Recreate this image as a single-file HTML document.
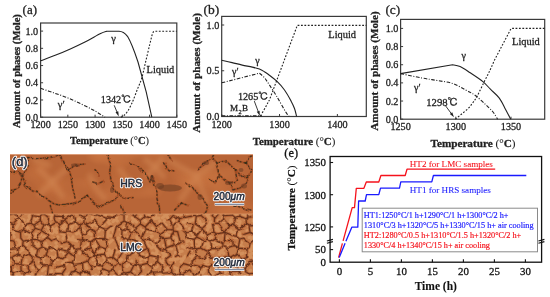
<!DOCTYPE html>
<html><head><meta charset="utf-8"><style>
html,body{margin:0;padding:0;background:#fff;}
svg{display:block;filter:blur(0.3px);}
.h{stroke:#ae5428;stroke-width:5.3}
.l{stroke:#d3905c;stroke-width:3.2}
</style></head><body>
<svg width="550" height="297" viewBox="0 0 550 297">
<rect width="550" height="297" fill="#fff"/>
<defs>
<clipPath id="cTop"><rect x="10" y="154" width="243" height="60"/></clipPath>
<clipPath id="cBot"><rect x="10" y="214" width="243" height="61.5"/></clipPath>
<filter id="fShade" x="0" y="0" width="100%" height="100%" color-interpolation-filters="sRGB">
  <feTurbulence type="fractalNoise" baseFrequency="0.02 0.03" numOctaves="2" seed="4" result="n"/>
  <feColorMatrix in="n" type="matrix" values="0 0 0 0 0.95  0 0 0 0 0.6  0 0 0 0 0.35  1.0 0 0 0 -0.5" result="hl"/>
  <feComposite in="hl" in2="SourceGraphic" operator="in" result="hl2"/>
  <feMerge><feMergeNode in="SourceGraphic"/><feMergeNode in="hl2"/></feMerge>
</filter>

<filter id="fDisp" x="-5%" y="-5%" width="110%" height="110%">
  <feTurbulence type="fractalNoise" baseFrequency="0.18" numOctaves="2" seed="3" result="n"/>
  <feDisplacementMap in="SourceGraphic" in2="n" scale="3.4" xChannelSelector="R" yChannelSelector="G" result="d"/>
  <feGaussianBlur in="d" stdDeviation="0.55"/>
</filter>
<filter id="fDispT" x="-5%" y="-5%" width="110%" height="110%">
  <feTurbulence type="fractalNoise" baseFrequency="0.12" numOctaves="2" seed="8" result="n"/>
  <feDisplacementMap in="SourceGraphic" in2="n" scale="4" xChannelSelector="R" yChannelSelector="G" result="d"/>
  <feGaussianBlur in="d" stdDeviation="0.35"/>
</filter>
<filter id="fBl7" x="-5%" y="-5%" width="110%" height="110%"><feGaussianBlur stdDeviation="0.7"/></filter>

<filter id="fBlur2" x="-20%" y="-20%" width="140%" height="140%"><feGaussianBlur stdDeviation="2.2"/></filter>
<filter id="fBlur" x="-20%" y="-20%" width="140%" height="140%"><feGaussianBlur stdDeviation="0.6"/></filter>
</defs>
<rect x="10" y="154" width="243" height="60" fill="#b86537" filter="url(#fShade)"/>
<g clip-path="url(#cTop)" filter="url(#fBlur2)" stroke="#cf8450" stroke-linecap="round" fill="none" stroke-opacity="0.55">
<polyline points="170,161 197,176 206,201" stroke-width="6"/>
<polyline points="215,163 197,176 181,199" stroke-width="6"/>
<polyline points="146,160 155,167 163,176" stroke-width="6"/>
<polyline points="162,159 155,167 147,176" stroke-width="6"/>
<polyline points="40,170 52,182 62,196" stroke-width="6"/>
<polyline points="65,170 52,182 40,194" stroke-width="6"/>
<polyline points="90,176 97,190 104,198" stroke-width="6"/>
<polyline points="120,170 128,180" stroke-width="6"/>
<polyline points="230,196 240,202" stroke-width="6"/>
<polyline points="35,160 48,165" stroke-width="6"/>
</g>
<g clip-path="url(#cTop)"><g filter="url(#fDispT)" fill="none" stroke-linejoin="round" stroke-linecap="round">
<polyline points="27.9,158.5 39,158.5 50.3,157.4 59.2,155 61,153" stroke="#933c18" stroke-width="2.2" stroke-opacity="0.5"/>
<polyline points="10,172 18,172.5 22.3,175.3 24.5,170.8 27,166 27.9,158.5" stroke="#933c18" stroke-width="2.2" stroke-opacity="0.5"/>
<polyline points="22.3,175.3 21,182 17,188 10,189.5" stroke="#933c18" stroke-width="2.2" stroke-opacity="0.5"/>
<polyline points="22.3,175.3 25.7,185.3 32.4,190.9 39,193 45.8,198.7 54.7,204.3 63.7,205.5 72.6,204.3 81.6,198.7 88.3,195.4" stroke="#933c18" stroke-width="2.2" stroke-opacity="0.5"/>
<polyline points="60.3,154 60.3,156.2 63.7,164 69.3,169.7 71.5,179.7 72.6,187.6 73.8,193 75,198" stroke="#933c18" stroke-width="2.2" stroke-opacity="0.5"/>
<polyline points="69.3,169.7 74.9,165.2 80,164.5 86,164" stroke="#933c18" stroke-width="2.2" stroke-opacity="0.5"/>
<polyline points="95,169.7 97.2,172 99,176" stroke="#933c18" stroke-width="2.2" stroke-opacity="0.5"/>
<polyline points="108.4,154 108.4,158.5 110.7,165.2 109.6,172 111,180 112.9,187.6 117.4,194.3 126.3,198.7 133,197.6" stroke="#933c18" stroke-width="2.2" stroke-opacity="0.5"/>
<polyline points="92.8,183 97.2,184.2 104,180.8" stroke="#933c18" stroke-width="2.2" stroke-opacity="0.5"/>
<polyline points="88.3,195.4 92.8,202 99.5,206.6 108.4,203.2 115.1,199.9 117.4,194.3" stroke="#933c18" stroke-width="2.2" stroke-opacity="0.5"/>
<polyline points="50.3,205.5 52.5,214" stroke="#933c18" stroke-width="2.2" stroke-opacity="0.5"/>
<polyline points="10,193 14.5,189.8" stroke="#933c18" stroke-width="2.2" stroke-opacity="0.5"/>
<polyline points="121.9,205.5 124.1,214" stroke="#933c18" stroke-width="2.2" stroke-opacity="0.5"/>
<polyline points="130,163 137,165 143,172 147,176 150,182 152,176" stroke="#933c18" stroke-width="2.2" stroke-opacity="0.5"/>
<polyline points="152,176 154,185 157,192 157,199 159,205 160,214" stroke="#933c18" stroke-width="2.2" stroke-opacity="0.5"/>
<polyline points="163.5,163 166,166 169,169.7 174,171" stroke="#933c18" stroke-width="2.2" stroke-opacity="0.5"/>
<polyline points="168,154 170,158 172,160" stroke="#933c18" stroke-width="2.2" stroke-opacity="0.5"/>
<polyline points="197,169.7 202,166 206,163 210,160" stroke="#933c18" stroke-width="2.2" stroke-opacity="0.5"/>
<polyline points="186,183 192.6,187.5 197,194 201.6,196.5 208.3,205.5 203.8,214" stroke="#933c18" stroke-width="2.2" stroke-opacity="0.5"/>
<polyline points="181.5,203 174.7,210" stroke="#933c18" stroke-width="2.2" stroke-opacity="0.5"/>
<polyline points="181.5,203 188,205.5" stroke="#933c18" stroke-width="2.2" stroke-opacity="0.5"/>
<polyline points="216,163 219.5,176.4 228.4,183 237.4,180.8 235,169.7 226,160.7 216,163" stroke="#933c18" stroke-width="2.2" stroke-opacity="0.5"/>
<polyline points="237.4,160.7 246.3,163 250.8,169.7 248.6,176.4 241.9,176.4 235,169.7" stroke="#933c18" stroke-width="2.2" stroke-opacity="0.5"/>
<polyline points="228.4,183 233,189.8 241.9,187.6 246.3,183 248.6,176.4" stroke="#933c18" stroke-width="2.2" stroke-opacity="0.5"/>
<polyline points="210.5,178.6 215,183 219.5,176.4" stroke="#933c18" stroke-width="2.2" stroke-opacity="0.5"/>
<polyline points="235,205.5 250.8,210" stroke="#933c18" stroke-width="2.2" stroke-opacity="0.5"/>
<polyline points="246.3,163 249,157 253,156" stroke="#933c18" stroke-width="2.2" stroke-opacity="0.5"/>
<polyline points="216,163 212,158 214,154" stroke="#933c18" stroke-width="2.2" stroke-opacity="0.5"/>
<polyline points="27.9,158.5 39,158.5 50.3,157.4 59.2,155 61,153" stroke="#222a1a" stroke-width="1.25" stroke-opacity="0.7" stroke-dasharray="1.4 2.4 0.9 3.2 2.2 2.6 0.7 2"/>
<polyline points="10,172 18,172.5 22.3,175.3 24.5,170.8 27,166 27.9,158.5" stroke="#222a1a" stroke-width="1.25" stroke-opacity="0.7" stroke-dasharray="1.4 2.4 0.9 3.2 2.2 2.6 0.7 2"/>
<polyline points="22.3,175.3 21,182 17,188 10,189.5" stroke="#222a1a" stroke-width="1.25" stroke-opacity="0.7" stroke-dasharray="1.4 2.4 0.9 3.2 2.2 2.6 0.7 2"/>
<polyline points="22.3,175.3 25.7,185.3 32.4,190.9 39,193 45.8,198.7 54.7,204.3 63.7,205.5 72.6,204.3 81.6,198.7 88.3,195.4" stroke="#222a1a" stroke-width="1.25" stroke-opacity="0.7" stroke-dasharray="1.4 2.4 0.9 3.2 2.2 2.6 0.7 2"/>
<polyline points="60.3,154 60.3,156.2 63.7,164 69.3,169.7 71.5,179.7 72.6,187.6 73.8,193 75,198" stroke="#222a1a" stroke-width="1.25" stroke-opacity="0.7" stroke-dasharray="1.4 2.4 0.9 3.2 2.2 2.6 0.7 2"/>
<polyline points="69.3,169.7 74.9,165.2 80,164.5 86,164" stroke="#222a1a" stroke-width="1.25" stroke-opacity="0.7" stroke-dasharray="1.4 2.4 0.9 3.2 2.2 2.6 0.7 2"/>
<polyline points="95,169.7 97.2,172 99,176" stroke="#222a1a" stroke-width="1.25" stroke-opacity="0.7" stroke-dasharray="1.4 2.4 0.9 3.2 2.2 2.6 0.7 2"/>
<polyline points="108.4,154 108.4,158.5 110.7,165.2 109.6,172 111,180 112.9,187.6 117.4,194.3 126.3,198.7 133,197.6" stroke="#222a1a" stroke-width="1.25" stroke-opacity="0.7" stroke-dasharray="1.4 2.4 0.9 3.2 2.2 2.6 0.7 2"/>
<polyline points="92.8,183 97.2,184.2 104,180.8" stroke="#222a1a" stroke-width="1.25" stroke-opacity="0.7" stroke-dasharray="1.4 2.4 0.9 3.2 2.2 2.6 0.7 2"/>
<polyline points="88.3,195.4 92.8,202 99.5,206.6 108.4,203.2 115.1,199.9 117.4,194.3" stroke="#222a1a" stroke-width="1.25" stroke-opacity="0.7" stroke-dasharray="1.4 2.4 0.9 3.2 2.2 2.6 0.7 2"/>
<polyline points="50.3,205.5 52.5,214" stroke="#222a1a" stroke-width="1.25" stroke-opacity="0.7" stroke-dasharray="1.4 2.4 0.9 3.2 2.2 2.6 0.7 2"/>
<polyline points="10,193 14.5,189.8" stroke="#222a1a" stroke-width="1.25" stroke-opacity="0.7" stroke-dasharray="1.4 2.4 0.9 3.2 2.2 2.6 0.7 2"/>
<polyline points="121.9,205.5 124.1,214" stroke="#222a1a" stroke-width="1.25" stroke-opacity="0.7" stroke-dasharray="1.4 2.4 0.9 3.2 2.2 2.6 0.7 2"/>
<polyline points="130,163 137,165 143,172 147,176 150,182 152,176" stroke="#222a1a" stroke-width="1.25" stroke-opacity="0.7" stroke-dasharray="1.4 2.4 0.9 3.2 2.2 2.6 0.7 2"/>
<polyline points="152,176 154,185 157,192 157,199 159,205 160,214" stroke="#222a1a" stroke-width="1.25" stroke-opacity="0.7" stroke-dasharray="1.4 2.4 0.9 3.2 2.2 2.6 0.7 2"/>
<polyline points="163.5,163 166,166 169,169.7 174,171" stroke="#222a1a" stroke-width="1.25" stroke-opacity="0.7" stroke-dasharray="1.4 2.4 0.9 3.2 2.2 2.6 0.7 2"/>
<polyline points="168,154 170,158 172,160" stroke="#222a1a" stroke-width="1.25" stroke-opacity="0.7" stroke-dasharray="1.4 2.4 0.9 3.2 2.2 2.6 0.7 2"/>
<polyline points="197,169.7 202,166 206,163 210,160" stroke="#222a1a" stroke-width="1.25" stroke-opacity="0.7" stroke-dasharray="1.4 2.4 0.9 3.2 2.2 2.6 0.7 2"/>
<polyline points="186,183 192.6,187.5 197,194 201.6,196.5 208.3,205.5 203.8,214" stroke="#222a1a" stroke-width="1.25" stroke-opacity="0.7" stroke-dasharray="1.4 2.4 0.9 3.2 2.2 2.6 0.7 2"/>
<polyline points="181.5,203 174.7,210" stroke="#222a1a" stroke-width="1.25" stroke-opacity="0.7" stroke-dasharray="1.4 2.4 0.9 3.2 2.2 2.6 0.7 2"/>
<polyline points="181.5,203 188,205.5" stroke="#222a1a" stroke-width="1.25" stroke-opacity="0.7" stroke-dasharray="1.4 2.4 0.9 3.2 2.2 2.6 0.7 2"/>
<polyline points="216,163 219.5,176.4 228.4,183 237.4,180.8 235,169.7 226,160.7 216,163" stroke="#222a1a" stroke-width="1.25" stroke-opacity="0.7" stroke-dasharray="1.4 2.4 0.9 3.2 2.2 2.6 0.7 2"/>
<polyline points="237.4,160.7 246.3,163 250.8,169.7 248.6,176.4 241.9,176.4 235,169.7" stroke="#222a1a" stroke-width="1.25" stroke-opacity="0.7" stroke-dasharray="1.4 2.4 0.9 3.2 2.2 2.6 0.7 2"/>
<polyline points="228.4,183 233,189.8 241.9,187.6 246.3,183 248.6,176.4" stroke="#222a1a" stroke-width="1.25" stroke-opacity="0.7" stroke-dasharray="1.4 2.4 0.9 3.2 2.2 2.6 0.7 2"/>
<polyline points="210.5,178.6 215,183 219.5,176.4" stroke="#222a1a" stroke-width="1.25" stroke-opacity="0.7" stroke-dasharray="1.4 2.4 0.9 3.2 2.2 2.6 0.7 2"/>
<polyline points="235,205.5 250.8,210" stroke="#222a1a" stroke-width="1.25" stroke-opacity="0.7" stroke-dasharray="1.4 2.4 0.9 3.2 2.2 2.6 0.7 2"/>
<polyline points="246.3,163 249,157 253,156" stroke="#222a1a" stroke-width="1.25" stroke-opacity="0.7" stroke-dasharray="1.4 2.4 0.9 3.2 2.2 2.6 0.7 2"/>
<polyline points="216,163 212,158 214,154" stroke="#222a1a" stroke-width="1.25" stroke-opacity="0.7" stroke-dasharray="1.4 2.4 0.9 3.2 2.2 2.6 0.7 2"/>
</g>
<ellipse cx="170" cy="188" rx="12" ry="3.5" fill="#6a3820" fill-opacity="0.55" filter="url(#fBlur)"/>
<ellipse cx="160" cy="186" rx="4" ry="3" fill="#6a3820" fill-opacity="0.55" filter="url(#fBlur)"/>
<ellipse cx="229" cy="183" rx="4" ry="2" fill="#6a3820" fill-opacity="0.55" filter="url(#fBlur)"/>
<ellipse cx="244" cy="186" rx="3" ry="2.5" fill="#6a3820" fill-opacity="0.55" filter="url(#fBlur)"/>
<ellipse cx="206" cy="163" rx="3" ry="2" fill="#6a3820" fill-opacity="0.55" filter="url(#fBlur)"/>
<ellipse cx="75" cy="165" rx="4" ry="1.8" fill="#6a3820" fill-opacity="0.55" filter="url(#fBlur)"/>
<ellipse cx="22" cy="175" rx="2.5" ry="2" fill="#6a3820" fill-opacity="0.55" filter="url(#fBlur)"/>
<ellipse cx="112" cy="190" rx="2" ry="3" fill="#6a3820" fill-opacity="0.55" filter="url(#fBlur)"/>
<ellipse cx="200" cy="197" rx="2.5" ry="3" fill="#6a3820" fill-opacity="0.55" filter="url(#fBlur)"/>
<ellipse cx="152" cy="178" rx="2" ry="3" fill="#6a3820" fill-opacity="0.55" filter="url(#fBlur)"/>
<ellipse cx="241" cy="170" rx="2.5" ry="2" fill="#6a3820" fill-opacity="0.55" filter="url(#fBlur)"/>
</g>
<rect x="10" y="214" width="243" height="61.5" fill="#c67d4b"/>
<g clip-path="url(#cBot)"><g filter="url(#fBl7)" fill="none" stroke-linecap="round" stroke-linejoin="round">
<path class="l" d="M134.5 276.1l0.4 4.2M134.5 276.1l-3.2 0.3M134.5 276.1l-0.4 -4.3M134.5 276.1l4.5 -0.4M139.8 266.1l3.7 1.4M139.8 266.1l-0.9 2.5M139.8 266.1l-3.5 -1.3M139.8 266.1l1.1 -3.1M153.6 268.5l1.9 3.1M153.6 268.5l-2.3 1.4M153.6 268.5l-2.2 -3.7M153.6 268.5l3.4 -2.0M129.4 263.6l3.2 2.9M129.4 263.6l-2.5 2.8M129.4 263.6l-3.1 -2.8M129.4 263.6l2.4 -2.6M147.2 274.5l2.8 2.9M147.2 274.5l-2.6 2.4M147.2 274.5l2.2 -2.1M129.4 253.3l-0.6 4.0M129.4 253.3l-3.7 -0.5M129.4 253.3l0.7 -4.5M169.2 266.6l2.0 1.8M169.2 266.6l-3.0 3.4M169.2 266.6l1.9 -2.2M117.9 261.5l-2.1 -3.8M117.9 261.5l3.4 -1.9M144.2 257.0l1.9 3.1M144.2 257.0l-3.8 2.4M144.2 257.0l-2.1 -3.5M144.2 257.0l3.8 -2.3M120.5 275.1l0.7 3.0M120.5 275.1l-3.5 0.8M120.5 275.1l-0.8 -3.6M162.6 273.0l0.5 2.8M162.6 273.0l-2.8 0.5M162.6 273.0l-0.7 -3.9M162.6 273.0l2.7 -0.5M161.0 262.2l1.9 2.8M161.0 262.2l-2.5 1.7M161.0 262.2l-2.1 -3.2M161.0 262.2l3.5 -2.3M110.1 278.6l3.1 2.2M110.1 278.6l-1.9 2.8M110.1 278.6l1.5 -2.2M156.5 278.3l0.6 4.0M156.5 278.3l-3.4 0.5M156.5 278.3l-0.4 -2.6M156.5 278.3l2.8 -0.4M155.8 254.4l3.1 1.2M155.8 254.4l-1.4 3.7M155.8 254.4l-3.1 -1.2M155.8 254.4l1.4 -3.7M173.1 278.5l4.6 0.6M173.1 278.5l-0.4 3.5M173.1 278.5l-2.6 -0.3M173.1 278.5l0.5 -4.4M95.8 278.0l0.1 3.8M95.8 278.0l-4.3 0.1M95.8 278.0l-0.1 -3.2M95.8 278.0l3.3 -0.1M97.3 265.9l1.4 2.4M97.3 265.9l-3.6 2.0M97.3 265.9l-1.5 -2.6M97.3 265.9l3.5 -2.0M174.3 259.2l0.3 2.8M174.3 259.2l-4.3 0.4M174.3 259.2l-0.3 -3.1M174.3 259.2l3.6 -0.3M178.5 269.5l3.1 1.7M178.5 269.5l-1.7 3.0M178.5 269.5l-3.5 -1.9M178.5 269.5l1.8 -3.3M146.2 244.8l3.1 1.2M146.2 244.8l-3.1 -1.2M146.2 244.8l1.1 -2.8M159.3 239.4l-3.8 1.4M167.8 247.4l3.6 1.5M167.8 247.4l-1.4 3.5M167.8 247.4l-4.2 -1.8M154.6 246.0l2.3 4.0M154.6 246.0l-3.1 1.8M154.6 246.0l-1.7 -2.9M154.6 246.0l3.4 -2.0M178.5 252.0l0.8 4.4M178.5 252.0l-3.1 0.6M178.5 252.0l-0.8 -4.4M178.5 252.0l3.6 -0.7M138.0 248.9l-2.4 3.9M138.0 248.9l-3.6 -2.2M138.0 248.9l2.1 -3.5M118.6 250.4l1.9 2.6M118.6 250.4l-2.5 1.9M118.6 250.4l-1.6 -2.2M118.6 250.4l3.4 -2.6M144.0 230.0l3.0 1.3M144.0 230.0l-1.1 2.7M144.0 230.0l-2.6 -1.1M138.1 240.7l-3.5 1.1M138.1 240.7l-1.2 -3.8M138.1 240.7l3.8 -1.2M126.7 239.6l2.4 1.4M126.7 239.6l-1.4 2.4M126.7 239.6l-2.9 -1.7M126.7 239.6l1.4 -2.3M106.6 259.3l2.5 1.9M106.6 259.3l-2.5 3.3M106.6 259.3l-2.6 -1.9M106.6 259.3l1.8 -2.5M166.7 230.7l3.6 0.2M166.7 230.7l-0.3 4.4M113.0 270.9l-4.0 -0.1M113.0 270.9l0.1 -4.5M149.5 237.2l1.5 3.8M149.5 237.2l-2.5 1.0M149.5 237.2l2.7 -1.1M153.8 230.3l-2.8 1.8M153.8 230.3l-1.5 -2.3M153.8 230.3l3.5 -2.2M177.5 239.4l3.5 1.9M177.5 239.4l-1.8 3.4M177.5 239.4l-3.5 -1.9M177.5 239.4l1.5 -2.8M122.7 230.7l2.9 1.4M122.7 230.7l-1.8 3.8M122.7 230.7l-2.8 -1.3M122.7 230.7l1.8 -3.7M108.4 243.5l-2.8 -3.2M108.4 243.5l2.9 -2.5M134.7 228.9l-2.7 2.2M134.7 228.9l-2.8 -3.4M134.7 228.9l3.5 -2.9M142.8 218.7l3.0 2.7M142.8 218.7l-1.8 2.0M142.8 218.7l-2.0 -1.9M142.8 218.7l2.2 -2.4M84.9 275.1l0.4 4.1M84.9 275.1l-3.0 0.3M84.9 275.1l-0.4 -3.8M84.9 275.1l4.5 -0.5M165.7 215.2l1.9 2.3M165.7 215.2l-3.2 2.7M165.7 215.2l-2.3 -2.7M165.7 215.2l2.7 -2.2M182.7 259.7l-1.6 2.2M182.7 259.7l-2.2 -1.6M182.7 259.7l2.4 -3.4M155.9 218.3l-3.9 0.5M155.9 218.3l-0.5 -4.5M155.9 218.3l2.9 -0.3M85.0 264.1l1.9 4.1M85.0 264.1l4.0 -1.8M175.4 213.5l2.4 2.0M175.4 213.5l-1.8 2.2M175.4 213.5l-2.1 -1.7M175.4 213.5l2.3 -2.8M182.7 279.2l2.6 0.8M182.7 279.2l-1.1 3.6M182.7 279.2l-3.5 -1.0M110.4 252.2l1.4 2.8M110.4 252.2l-4.1 2.0M110.4 252.2l-1.3 -2.6M110.4 252.2l2.8 -1.4M173.8 223.2l0.3 2.6M173.8 223.2l-3.0 0.3M173.8 223.2l-0.4 -3.6M173.8 223.2l3.9 -0.4M96.1 246.2l-0.2 2.8M96.1 246.2l-4.1 -0.2M96.1 246.2l0.2 -4.1M186.3 222.1l3.6 0.1M186.3 222.1l-0.1 3.8M186.3 222.1l-3.1 -0.0M186.3 222.1l0.1 -3.7M180.6 228.4l-2.7 0.6M180.6 228.4l-0.8 -3.3M191.8 276.4l0.3 2.7M191.8 276.4l-3.2 0.4M191.8 276.4l-0.4 -3.9M191.8 276.4l3.7 -0.4M190.0 239.6l1.7 2.7M190.0 239.6l-3.4 2.1M190.0 239.6l-1.7 -2.8M190.0 239.6l3.9 -2.4M168.7 239.3l0.0 4.3M168.7 239.3l-3.8 0.0M168.7 239.3l-0.0 -3.7M168.7 239.3l3.6 -0.0M102.1 252.2l2.8 0.7M102.1 252.2l-0.7 2.8M102.1 252.2l-4.0 -1.0M102.1 252.2l1.1 -4.3M112.3 228.5l1.3 3.8M112.3 228.5l-2.7 1.0M112.3 228.5l-1.3 -3.5M112.3 228.5l4.2 -1.5M89.4 241.9l-1.5 2.6M89.4 241.9l-2.4 -1.4M89.4 241.9l1.7 -2.9M117.4 240.7l4.3 1.6M117.4 240.7l-1.0 2.6M117.4 240.7l-3.7 -1.4M117.4 240.7l1.0 -2.7M200.6 233.8l2.3 1.4M200.6 233.8l-3.6 -2.2M200.6 233.8l2.3 -3.8M192.0 266.2l2.4 2.5M192.0 266.2l-1.9 1.8M192.0 266.2l-2.3 -2.4M134.4 219.8l2.1 2.0M134.4 219.8l-2.0 2.2M134.4 219.8l-1.9 -1.8M134.4 219.8l1.9 -2.0M99.0 237.4l3.4 1.7M99.0 237.4l-1.6 3.2M95.1 257.8l3.1 3.4M95.1 257.8l-2.0 1.8M95.1 257.8l-2.6 -2.9M95.1 257.8l3.3 -3.0M82.6 250.0l2.1 2.0M82.6 250.0l-3.0 3.2M82.6 250.0l-2.1 -2.0M82.6 250.0l3.0 -3.2M202.3 273.1l-2.7 2.9M202.3 273.1l-2.4 -2.3M202.3 273.1l2.0 -2.1M134.6 211.5l2.3 1.9M134.6 211.5l-1.9 2.3M134.6 211.5l-2.1 -1.7M134.6 211.5l2.3 -2.8M209.2 236.5l2.5 1.0M209.2 236.5l-1.6 4.0M209.2 236.5l-4.2 -1.6M209.2 236.5l1.4 -3.5M107.6 235.2l3.9 0.7M107.6 235.2l-0.7 3.8M107.6 235.2l-2.9 -0.5M107.6 235.2l0.7 -3.8M165.0 255.1l2.0 2.0M165.0 255.1l-1.9 1.8M165.0 255.1l-2.2 -2.3M165.0 255.1l2.3 -2.2M200.9 225.2l1.4 4.3M200.9 225.2l-4.2 1.3M200.9 225.2l-1.2 -3.8M200.9 225.2l2.9 -0.9M73.2 251.9l1.6 4.1M73.2 251.9l-4.0 1.6M73.2 251.9l-1.2 -3.1M73.2 251.9l2.6 -1.0M101.5 227.6l3.0 2.5M101.5 227.6l-2.8 3.4M101.5 227.6l2.6 -3.2M151.0 211.9l2.7 2.3M151.0 211.9l-2.0 2.4M151.0 211.9l-3.3 -2.8M107.4 221.5l3.1 3.2M107.4 221.5l-2.8 -2.9M107.4 221.5l2.8 -2.7M185.7 247.9l3.4 1.4M185.7 247.9l-3.3 -1.4M185.7 247.9l1.0 -2.4M103.3 271.3l1.2 3.4M103.3 271.3l-3.1 1.1M103.3 271.3l-1.2 -3.5M103.3 271.3l3.6 -1.2M124.6 219.6l2.8 1.8M124.6 219.6l1.9 -3.0M216.7 243.3l4.2 0.9M216.7 243.3l-0.7 3.4M216.7 243.3l-4.3 -1.0M216.7 243.3l0.8 -3.4M193.5 257.7l-1.6 2.5M193.5 257.7l-3.7 -2.3M193.5 257.7l2.0 -3.2M207.2 266.5l1.8 2.7M207.2 266.5l-3.2 2.1M207.2 266.5l-2.2 -3.4M207.2 266.5l2.3 -1.5M162.7 222.9l3.3 2.2M162.7 222.9l-2.0 2.9M162.7 222.9l-2.9 -2.0M162.7 222.9l1.6 -2.3M200.2 243.1l3.6 1.8M200.2 243.1l-1.5 3.1M200.2 243.1l-3.3 -1.6M200.2 243.1l1.4 -2.8M62.6 250.5l1.6 3.7M62.6 250.5l-3.0 1.2M62.6 250.5l-1.2 -3.0M62.6 250.5l3.6 -1.5M111.9 211.1l3.0 0.4M111.9 211.1l-0.4 2.7M111.9 211.1l0.6 -4.0M93.1 214.8l3.9 1.0M93.1 214.8l-0.9 3.4M93.1 214.8l-4.4 -1.2M93.1 214.8l0.8 -3.2M72.3 239.6l4.3 1.2M72.3 239.6l-4.1 -1.1M72.3 239.6l0.7 -2.7M87.9 233.1l3.6 1.4M87.9 233.1l-3.5 -1.4M87.9 233.1l1.5 -3.7M209.0 226.1l4.0 1.5M209.0 226.1l-1.5 3.9M209.0 226.1l-2.8 -1.1M209.0 226.1l1.6 -4.3M194.2 248.6l1.9 2.8M194.2 248.6l-3.5 2.4M194.2 248.6l-2.0 -2.9M194.2 248.6l3.0 -2.0M75.6 263.9l-2.9 0.8M75.6 263.9l-1.1 -4.3M75.6 263.9l3.4 -0.9M93.4 223.6l3.4 2.0M93.4 223.6l-2.2 3.8M93.4 223.6l2.3 -3.9M83.3 220.1l-2.1 -2.1M83.3 220.1l2.9 -2.9M213.8 274.1l2.3 1.7M213.8 274.1l-2.3 3.1M213.8 274.1l-2.9 -2.1M206.5 258.3l1.0 3.4M206.5 258.3l-2.6 0.7M206.5 258.3l-0.7 -2.6M206.5 258.3l3.4 -1.0M213.0 252.2l-3.3 -1.0M213.0 252.2l1.0 -3.4M79.5 232.0l2.0 3.1M79.5 232.0l-2.8 1.8M79.5 232.0l-2.1 -3.3M79.5 232.0l2.7 -1.8M191.1 231.4l2.1 3.8M191.1 231.4l-3.3 1.9M191.1 231.4l-1.6 -2.8M191.1 231.4l2.6 -1.5M223.9 235.2l3.1 3.3M223.9 235.2l3.3 -3.1M74.9 220.6l1.9 4.1M74.9 220.6l-3.1 1.4M74.9 220.6l-1.8 -3.8M74.9 220.6l3.8 -1.7M71.3 212.7l0.4 3.9M71.3 212.7l-4.5 0.5M71.3 212.7l-0.4 -4.3M71.3 212.7l3.0 -0.3M102.1 213.5l3.8 1.4M102.1 213.5l-1.0 2.7M102.1 213.5l-2.7 -1.0M102.1 213.5l1.0 -2.7M223.6 278.3l1.9 3.4M223.6 278.3l-3.7 2.1M223.6 278.3l-1.8 -3.1M223.6 278.3l3.5 -2.0M123.6 211.1l1.3 3.3M123.6 211.1l-3.1 1.2M123.6 211.1l-1.0 -2.5M123.6 211.1l4.2 -1.7M207.1 214.9l2.5 3.8M207.1 214.9l-1.9 -2.9M207.1 214.9l3.5 -2.3M73.3 274.8l4.2 1.8M73.3 274.8l-1.2 2.8M73.3 274.8l-3.9 -1.7M73.3 274.8l1.1 -2.5M115.0 219.2l2.3 1.8M115.0 219.2l-1.8 2.4M115.0 219.2l-3.4 -2.6M115.0 219.2l1.8 -2.3M55.3 258.4l2.6 1.0M55.3 258.4l-1.4 3.7M55.3 258.4l-4.2 -1.6M55.3 258.4l1.5 -4.0M196.4 210.3l0.1 4.3M196.4 210.3l-2.8 0.1M196.4 210.3l-0.1 -2.6M196.4 210.3l3.0 -0.1M221.7 260.2l3.1 2.9M221.7 260.2l-2.3 2.5M221.7 260.2l1.8 -2.0M83.7 211.3l3.1 1.6M83.7 211.3l-1.9 3.8M83.7 211.3l-4.1 -2.1M83.7 211.3l1.4 -2.7M194.0 219.7l-3.7 0.6M194.0 219.7l-0.6 -3.4M194.0 219.7l3.4 -0.6M57.1 239.4l-1.1 3.7M57.1 239.4l-2.7 -0.8M57.1 239.4l0.8 -2.5M184.4 213.7l-3.4 0.8M184.4 213.7l-0.8 -3.6M184.4 213.7l3.5 -0.8M227.4 269.8l2.4 2.2M227.4 269.8l-2.3 2.5M227.4 269.8l-2.7 -2.5M227.4 269.8l2.6 -2.8M222.2 221.4l3.6 0.5M222.2 221.4l-3.9 -0.6M222.2 221.4l0.6 -3.7M64.9 277.5l2.8 1.2M64.9 277.5l-1.7 4.0M64.9 277.5l-3.7 -1.6M64.9 277.5l1.4 -3.2M215.8 211.8l0.5 4.3M215.8 211.8l-0.4 -3.3M215.8 211.8l2.8 -0.3M236.2 215.9l1.3 4.4M236.2 215.9l-2.9 0.9M236.2 215.9l-0.9 -3.1M236.2 215.9l4.1 -1.2M62.6 215.1l-2.9 2.4M62.6 215.1l-1.8 -2.3M62.6 215.1l3.2 -2.6M227.5 246.3l0.1 3.2M227.5 246.3l-2.9 0.1M227.5 246.3l3.4 -0.1M64.7 261.7l1.6 2.1M64.7 261.7l-2.1 1.6M64.7 261.7l-1.7 -2.2M64.7 261.7l2.2 -1.6M238.8 254.4l0.8 2.9M238.8 254.4l-2.9 0.9M238.8 254.4l-1.0 -3.3M238.8 254.4l4.3 -1.3M231.1 223.0l-3.3 0.2M231.1 223.0l-0.2 -3.2M231.1 223.0l3.3 -0.2M48.8 210.1l0.6 3.3M48.8 210.1l-2.8 0.5M236.2 269.9l1.7 3.1M236.2 269.9l-2.5 1.3M236.2 269.9l3.2 -1.7M63.0 227.6l3.4 1.7M63.0 227.6l-1.3 2.5M63.0 227.6l-2.7 -1.4M63.0 227.6l1.6 -3.0M223.9 211.1l0.7 2.9M223.9 211.1l-2.9 0.7M223.9 211.1l-0.7 -2.9M223.9 211.1l4.2 -1.0M47.7 225.4l1.0 3.4M47.7 225.4l-2.9 0.9M47.7 225.4l3.7 -1.1M208.8 244.7l4.1 1.3M208.8 244.7l-1.0 3.1M208.8 244.7l-4.0 -1.2M208.8 244.7l1.3 -4.3M249.4 255.8l2.4 2.2M249.4 255.8l-2.8 3.0M249.4 255.8l-2.8 -2.6M249.4 255.8l2.3 -2.5M240.3 246.2l2.6 0.8M240.3 246.2l-1.3 4.3M240.3 246.2l-3.5 -1.0M240.3 246.2l1.1 -3.6M251.8 237.6l2.8 0.1M251.8 237.6l-0.1 3.0M251.8 237.6l-2.7 -0.1M251.8 237.6l0.1 -2.7M239.8 237.3l0.5 4.5M239.8 237.3l-3.8 0.4M239.8 237.3l-0.5 -4.5M239.8 237.3l4.2 -0.5M229.9 260.3l3.6 2.0M229.9 260.3l-1.5 2.7M229.9 260.3l-3.7 -2.0M229.9 260.3l1.4 -2.6M41.7 259.9l1.9 2.1M41.7 259.9l-2.3 2.0M41.7 259.9l-2.4 -2.8M41.7 259.9l2.8 -2.5M239.1 225.1l-1.1 4.3M239.1 225.1l-4.3 -1.1M239.1 225.1l0.9 -3.6M248.5 273.9l3.3 1.8M248.5 273.9l-1.3 2.3M248.5 273.9l-4.0 -2.2M248.5 273.9l2.0 -3.5M219.5 268.2l-1.8 3.8M219.5 268.2l-2.6 -1.2M219.5 268.2l1.6 -3.4M58.3 270.6l2.9 3.5M58.3 270.6l-2.8 2.3M58.3 270.6l-1.8 -2.1M58.3 270.6l3.4 -2.8M250.3 229.2l1.4 2.8M250.3 229.2l-3.2 1.6M250.3 229.2l-1.7 -3.4M250.3 229.2l3.3 -1.7M54.7 230.6l2.0 1.9M54.7 230.6l-2.3 2.5M54.7 230.6l-2.4 -2.3M54.7 230.6l2.3 -2.5M231.7 279.4l-3.8 -1.4M231.7 279.4l1.1 -2.9M53.0 217.0l1.9 2.8M53.0 217.0l-2.9 1.9M53.0 217.0l-1.8 -2.6M53.0 217.0l3.8 -2.5M253.1 248.1l1.7 2.0M253.1 248.1l-2.8 2.3M253.1 248.1l-2.9 -3.5M253.1 248.1l3.3 -2.7M244.6 263.7l2.9 0.3M244.6 263.7l-3.5 -0.4M244.6 263.7l0.3 -3.0M47.2 234.5l-3.6 2.5M47.2 234.5l-1.9 -2.7M47.2 234.5l3.7 -2.6M217.8 229.3l2.0 3.4M217.8 229.3l-2.4 1.4M217.8 229.3l-1.6 -2.8M71.4 228.3l-1.7 3.5M71.4 228.3l-3.8 -1.9M71.4 228.3l1.6 -3.3M54.2 248.4l1.9 2.3M54.2 248.4l-2.4 1.9M54.2 248.4l2.6 -2.1M37.2 236.5l2.0 4.0M37.2 236.5l-2.9 1.4M37.2 236.5l-1.2 -2.4M37.2 236.5l3.7 -1.8M256.1 267.0l2.4 1.3M256.1 267.0l-3.5 -1.9M256.1 267.0l1.5 -2.8M255.2 217.5l3.2 2.1M255.2 217.5l-2.1 3.3M255.2 217.5l-2.4 -1.5M255.2 217.5l1.9 -2.9M245.1 215.3l3.5 0.1M245.1 215.3l-0.1 3.8M245.1 215.3l-3.6 -0.1M245.1 215.3l0.1 -4.0M232.2 233.5l1.9 3.8M232.2 233.5l-2.4 1.2M232.2 233.5l-1.3 -2.6M232.2 233.5l3.6 -1.8M36.6 227.2l1.6 2.6M36.6 227.2l-2.0 -3.1M38.8 218.7l0.8 2.6M38.8 218.7l-2.8 0.8M38.8 218.7l-0.9 -3.2M38.8 218.7l2.6 -0.8M32.4 252.3l0.9 3.7M32.4 252.3l-3.7 0.9M32.4 252.3l-0.7 -2.9M32.4 252.3l3.5 -0.8M255.5 278.0l1.2 3.8M255.5 278.0l-2.6 0.9M255.5 278.0l-1.1 -3.4M255.5 278.0l2.6 -0.9M240.8 276.6l2.6 0.2M240.8 276.6l-0.2 2.6M240.8 276.6l-4.1 -0.4M240.8 276.6l0.3 -3.8M30.5 219.1l2.0 3.9M30.5 219.1l-2.4 1.2M30.5 219.1l-1.4 -2.8M30.5 219.1l2.8 -1.4M25.3 263.8l3.8 0.9M25.3 263.8l-0.7 2.9M25.3 263.8l-4.1 -1.0M25.3 263.8l0.9 -3.6M29.4 233.5l0.7 3.9M29.4 233.5l-3.7 0.6M29.4 233.5l-0.5 -3.1M25.1 225.5l2.9 2.4M25.1 225.5l-1.8 2.2M25.1 225.5l-2.2 -1.7M25.1 225.5l2.0 -2.5M64.9 235.5l3.7 2.2M64.9 235.5l-1.8 3.0M64.9 235.5l-3.8 -2.3M64.9 235.5l2.3 -3.8M50.4 274.8l4.1 1.2M50.4 274.8l-0.9 3.2M50.4 274.8l-3.8 -1.1M50.4 274.8l1.2 -3.9M46.1 246.9l0.3 3.8M46.1 246.9l-3.0 0.3M46.1 246.9l-0.3 -3.2M46.1 246.9l4.1 -0.3M19.9 218.4l4.2 1.7M19.9 218.4l-1.3 3.2M19.9 218.4l-3.9 -1.5M19.9 218.4l1.5 -3.9M17.0 226.9l-2.3 3.8M17.0 226.9l1.8 -3.1M8.9 224.9l4.1 1.6M8.9 224.9l-1.4 3.6M8.9 224.9l-4.0 -1.6M8.9 224.9l1.2 -3.1M27.5 242.2l-0.9 2.5M27.5 242.2l-3.5 -1.3M27.5 242.2l1.1 -3.0M17.8 257.5l0.9 2.8M17.8 257.5l-3.6 1.2M17.8 257.5l-1.3 -3.9M17.8 257.5l3.1 -1.0M37.2 267.2l-4.4 0.5M37.2 267.2l4.1 -0.4M8.7 214.3l3.9 0.3M8.7 214.3l-0.3 4.0M8.7 214.3l-4.0 -0.3M8.7 214.3l0.2 -2.8M20.8 210.1l2.1 2.6M20.8 210.1l-3.0 2.4M20.8 210.1l-1.8 -2.3M20.8 210.1l2.5 -2.0M28.8 211.1l1.3 3.0M28.8 211.1l-3.1 1.4M28.8 211.1l-1.2 -2.8M28.8 211.1l2.6 -1.1M33.3 277.4l1.2 3.0M33.3 277.4l-3.3 1.3M33.3 277.4l-1.4 -3.6M33.3 277.4l4.1 -1.6M12.1 233.7l2.1 3.3M12.1 233.7l-1.9 -2.9M12.1 233.7l3.7 -2.3M45.7 267.6l2.6 2.9M45.7 267.6l-3.3 3.0M17.4 272.8l1.9 2.6M17.4 272.8l-3.2 2.4M17.4 272.8l-2.6 -3.6M17.4 272.8l2.4 -1.8M13.6 248.5l2.9 3.0M13.6 248.5l-2.0 2.0M13.6 248.5l3.1 -3.0M24.7 278.7l0.6 3.7M24.7 278.7l-3.7 0.6M24.7 278.7l-0.4 -2.7M24.7 278.7l4.2 -0.6M37.0 245.3l1.9 2.0M37.0 245.3l-2.2 2.1M37.0 245.3l-1.9 -2.0M37.0 245.3l3.2 -3.0M23.2 249.4l-3.4 2.1M23.2 249.4l-2.0 -3.2M23.2 249.4l2.3 -1.4M19.8 240.0l0.0 4.3M19.8 240.0l-3.2 0.0M19.8 240.0l3.7 -0.0M10.1 259.8l3.6 0.3M10.1 259.8l-0.2 2.6M10.1 259.8l-3.4 -0.2M10.1 259.8l0.3 -3.7M6.1 243.5l2.4 3.5M6.1 243.5l-3.8 2.6M6.1 243.5l-1.7 -2.4M6.1 243.5l2.8 -1.9M8.0 268.5l0.5 3.6M8.0 268.5l-2.7 0.4M8.0 268.5l-0.4 -2.9M12.0 279.4l3.5 0.9M12.0 279.4l-1.0 3.8M12.0 279.4l1.1 -4.2M221.2 251.6l2.6 1.8M221.2 251.6l-1.8 2.7M221.2 251.6l-3.4 -2.4M221.2 251.6l2.3 -3.2M42.9 278.6l2.5 1.6M42.9 278.6l-2.3 3.6M42.9 278.6l-3.8 -2.4"/>
</g></g>
<g clip-path="url(#cBot)"><g filter="url(#fDisp)" fill="none" stroke-linecap="round">
<path d="M223.1 246.4L222.8 243.8M223.1 246.4L218.8 249.0M210.9 241.7L211.8 248.4M210.9 241.7L215.4 239.0M218.8 249.0L211.8 248.4M215.4 239.0L222.8 243.8M210.9 241.7L207.3 239.2M203.7 240.7L207.3 239.2M203.7 240.7L201.4 248.0M211.8 248.4L208.2 251.7M201.4 248.0L208.2 251.7M220.8 263.7L220.5 258.7M220.8 263.7L218.2 267.4M220.5 258.7L219.1 257.5M219.1 257.5L212.6 258.5M229.0 256.1L220.5 258.7M229.0 256.1L226.7 248.3M226.7 248.3L223.1 246.4M208.2 253.6L208.2 251.7M208.2 253.6L212.6 258.5M229.0 256.1L230.4 257.2M230.4 257.2L231.7 261.9M229.3 265.1L231.7 261.9M245.9 269.4L250.1 261.4M245.9 269.4L239.5 262.2M246.5 257.8L241.8 259.2M239.5 262.2L241.8 259.2M240.7 273.5L238.1 271.3M245.6 271.7L245.9 269.4M238.1 271.3L236.3 263.3M230.4 257.2L236.6 253.6M236.6 253.6L241.8 259.2M245.6 271.7L248.8 273.8M248.8 273.8L248.6 280.2M252.7 283.7L258.4 275.8M54.8 208.9L54.8 216.1M48.6 217.6L43.7 213.7M54.8 216.1L54.1 217.1M7.4 242.1L8.1 248.9M7.4 242.1L0.2 240.1M1.4 250.7L8.1 248.9M8.1 248.9L8.5 249.4M4.2 259.2L9.6 256.8M9.6 256.8L8.5 249.4M23.2 241.1L22.6 245.9M23.2 241.1L20.8 238.2M13.8 241.0L16.3 248.7M22.6 245.9L17.7 249.3M9.7 240.4L13.8 241.0M8.5 249.4L16.3 248.7M67.6 230.9L73.0 232.0M67.6 230.9L68.8 225.0M68.8 225.0L74.9 222.1M80.6 224.7L74.9 222.1M80.6 224.7L79.8 227.7M79.8 227.7L73.0 232.0M79.8 227.7L82.7 235.6M82.7 235.6L82.5 239.4M82.5 239.4L81.4 240.0M78.0 239.8L81.4 240.0M149.9 255.4L148.3 249.2M149.9 255.4L158.1 257.3M156.2 245.4L161.0 250.5M158.1 257.3L158.8 256.8M147.2 248.5L148.3 249.2M147.2 248.5L143.3 240.3M156.4 243.9L149.9 238.6M149.9 238.6L143.3 240.3M121.9 264.1L118.0 262.8M121.9 264.1L126.1 261.5M118.0 262.8L117.1 260.7M117.1 260.7L123.1 251.2M126.1 261.5L127.1 255.6M124.0 272.5L121.9 264.1M124.0 272.5L125.7 273.1M133.7 265.4L126.1 261.5M133.7 265.4L130.6 271.8M125.7 273.1L130.6 271.8M139.1 252.4L147.2 248.5M139.1 252.4L139.5 256.0M149.9 255.4L148.0 257.7M139.5 256.0L148.0 257.7M139.1 252.4L135.6 249.6M135.3 249.7L135.6 249.6M135.3 249.7L130.2 255.1M133.7 265.4L137.2 263.9M130.2 255.1L127.1 255.6M137.2 260.6L137.2 263.9M118.0 275.6L112.8 270.2M118.0 275.6L116.3 281.2M108.0 278.9L109.1 271.2M109.1 271.2L112.8 270.2M124.0 272.5L118.0 275.6M118.0 262.8L113.8 266.8M113.8 266.8L112.8 270.2M125.7 273.1L127.4 280.3M130.6 271.8L136.1 277.0M136.4 280.4L136.1 277.0M228.9 270.4L230.2 271.2M230.2 271.2L233.1 279.2M220.2 272.9L222.8 274.0M220.2 272.9L218.2 267.4M229.3 265.1L228.9 270.4M238.1 271.3L230.2 271.2M236.6 253.6L239.0 248.1M246.5 257.8L247.1 248.9M239.0 248.1L247.1 248.9M250.1 261.4L251.6 261.4M251.6 261.4L257.4 258.0M249.3 247.2L247.1 248.9M215.4 239.0L216.4 234.0M222.8 243.8L224.4 240.3M224.4 240.3L225.1 232.4M225.1 232.4L224.9 232.4M216.4 234.0L224.9 232.4M225.2 232.4L229.8 225.8M229.8 225.8L223.5 219.4M223.5 219.4L218.4 223.4M224.9 232.4L218.4 223.4M204.2 208.6L201.0 215.4M201.0 215.4L196.3 216.3M196.3 216.3L194.9 215.3M259.0 231.2L256.0 225.4M256.0 225.4L256.3 224.7M155.8 230.7L156.8 227.0M155.8 230.7L154.6 231.1M146.2 229.1L154.6 231.1M146.2 229.1L145.1 227.0M156.8 227.0L151.2 220.5M145.1 227.0L151.2 220.5M20.5 232.4L13.7 230.1M20.5 232.4L20.8 238.2M9.7 240.4L10.2 232.1M10.2 232.1L3.8 230.3M13.7 230.1L13.0 223.6M8.1 221.7L13.0 223.6M8.1 221.7L3.2 227.8M71.7 211.5L72.5 214.6M72.5 214.6L64.5 219.5M63.8 207.6L62.6 216.5M62.6 216.5L64.4 219.5M64.4 219.5L64.5 219.5M68.8 225.0L64.5 219.5M73.4 215.4L74.9 222.1M73.4 215.4L72.5 214.6M54.8 216.1L62.6 216.5M3.3 273.6L11.5 271.1M1.6 264.7L11.3 267.1M11.3 267.1L11.5 271.1M13.3 273.6L11.5 271.1M13.3 273.6L13.5 278.9M54.2 275.4L55.7 282.0M54.2 275.4L47.4 275.3M47.4 275.3L44.3 276.8M44.3 276.8L44.3 281.4M165.5 259.2L170.7 255.5M161.0 250.5L165.3 249.3M165.3 249.3L170.7 255.5M80.6 224.7L83.8 222.9M82.7 235.6L90.0 228.8M90.0 228.8L87.1 224.4M83.8 222.9L87.1 224.4M155.8 230.7L160.0 234.7M156.4 243.9L161.0 237.4M160.0 234.7L161.0 237.4M166.3 247.9L165.3 249.3M166.3 247.9L164.4 238.8M161.0 237.4L164.4 238.8M142.1 236.9L142.5 239.8M142.1 236.9L134.6 230.7M137.5 242.4L128.8 239.0M128.8 239.0L130.6 233.1M130.6 233.1L134.6 230.7M143.3 240.3L142.5 239.8M146.2 229.1L142.1 236.9M135.6 249.6L137.5 242.4M135.3 249.7L125.8 245.8M128.8 239.0L127.9 239.6M127.9 239.6L125.8 245.8M123.1 251.2L122.3 249.2M125.8 245.8L122.3 249.2M112.8 257.2L117.1 260.7M112.8 257.2L115.1 250.1M122.3 249.2L118.9 248.3M141.4 271.7L139.8 265.3M139.8 265.3L147.2 263.4M147.2 263.4L152.0 267.4M147.5 274.6L152.5 271.6M152.0 267.4L152.5 271.6M136.1 277.0L141.4 271.7M137.2 263.9L139.8 265.3M145.7 281.5L147.5 274.6M148.0 257.7L147.2 263.4M157.6 261.7L158.1 257.3M157.6 261.7L152.0 267.4M153.3 272.0L152.5 271.6M153.3 272.0L156.4 282.4M126.9 230.0L122.0 230.2M126.9 230.0L130.6 233.1M127.9 239.6L121.7 237.0M122.0 230.2L121.7 237.0M118.9 248.3L115.0 238.6M90.0 228.8L95.2 231.9M95.8 219.8L87.1 224.4M95.8 219.8L99.7 226.8M95.2 231.9L99.7 226.8M157.6 261.7L162.8 266.5M165.5 259.2L166.8 264.3M153.3 272.0L161.7 272.0M162.8 266.5L161.7 272.0M162.9 273.2L161.7 272.0M251.6 261.4L256.1 268.0M248.8 273.8L256.6 273.2M224.4 240.3L232.7 240.6M225.2 232.4L234.2 236.2M226.7 248.3L233.3 245.6M232.7 240.6L233.3 245.6M239.0 248.1L238.3 247.4M233.3 245.6L238.3 247.4M207.3 239.2L207.3 235.0M216.4 234.0L213.9 231.9M213.9 231.9L207.3 235.0M235.4 217.6L232.1 214.9M235.4 217.6L239.8 216.3M239.8 216.3L240.6 209.1M232.1 214.9L232.3 206.1M233.7 224.5L235.4 217.6M233.7 224.5L229.8 225.8M224.4 215.7L223.5 219.4M224.4 215.7L232.1 214.9M247.8 217.2L247.7 206.3M247.8 217.2L256.7 215.9M246.0 218.7L247.8 217.2M246.0 218.7L239.8 216.3M256.0 225.4L249.0 226.0M246.0 218.7L246.5 224.2M249.0 226.0L246.5 224.2M224.4 215.7L220.8 210.8M145.1 227.0L140.5 223.9M134.6 230.7L135.3 228.3M140.5 223.9L135.3 228.3M126.9 230.0L127.4 222.7M127.4 222.7L129.6 222.6M135.3 228.3L129.6 222.6M117.9 212.4L116.0 207.1M117.9 212.4L124.0 215.2M124.0 215.2L128.9 211.7M129.4 208.1L128.9 211.7M156.8 227.0L160.9 223.4M154.1 214.9L150.9 218.1M5.9 215.7L13.8 213.8M13.8 213.8L12.6 205.7M5.4 216.2L8.1 221.7M24.9 224.6L30.6 223.1M24.9 224.6L19.4 217.4M30.6 223.1L32.6 215.7M21.8 214.3L19.4 217.2M31.6 214.2L32.6 215.7M19.4 217.4L19.4 217.2M20.5 232.4L23.4 229.8M23.4 229.8L24.9 224.6M13.0 223.6L19.4 217.4M22.1 209.6L21.8 214.3M13.8 213.8L19.4 217.2M32.3 210.3L31.6 214.2M43.7 213.7L40.4 216.8M40.4 216.8L32.6 215.7M54.1 217.1L55.7 222.8M64.4 219.5L58.5 224.2M58.5 224.2L55.7 222.8M40.4 216.8L40.4 220.5M30.6 223.1L33.8 225.1M40.4 220.5L33.8 225.1M30.5 271.1L27.7 265.0M36.5 272.2L37.6 271.6M27.7 265.0L32.6 261.1M32.6 261.1L37.8 270.9M37.8 270.9L37.6 271.6M24.2 274.4L30.5 271.1M24.2 274.4L23.7 277.6M23.7 277.6L29.5 283.2M33.3 280.0L36.5 272.2M33.6 257.2L32.6 261.1M36.4 256.4L40.4 257.9M42.4 265.7L40.4 257.9M42.4 265.7L37.8 270.9M48.4 265.8L42.4 265.7M48.4 265.8L47.4 275.3M21.0 263.7L20.8 263.9M21.0 263.7L22.3 257.8M20.8 263.9L14.2 263.8M22.3 257.8L18.1 253.9M18.1 253.9L10.8 257.4M10.8 257.4L14.2 263.8M24.2 274.4L21.1 270.0M21.1 270.0L20.8 263.9M27.7 265.0L21.0 263.7M28.6 254.3L33.6 257.2M28.6 254.3L22.3 257.8M11.3 267.1L14.2 263.8M21.1 270.0L13.3 273.6M22.6 245.9L28.1 250.8M17.7 249.3L18.1 253.9M28.6 254.3L28.1 250.8M23.7 277.6L16.9 280.5M62.8 258.9L68.3 252.6M62.8 258.9L57.9 257.1M58.7 249.0L56.9 250.2M58.7 249.0L68.0 251.2M68.0 251.2L68.3 252.6M56.9 250.2L57.9 257.1M51.9 264.2L48.4 265.8M51.9 264.2L52.4 261.2M40.4 257.9L46.3 255.2M52.4 261.2L46.3 255.2M55.9 238.8L61.7 243.4M65.4 232.6L67.3 241.5M65.4 232.6L60.3 231.8M67.3 241.5L61.7 243.4M60.3 231.8L59.7 232.1M67.6 230.9L65.4 232.6M70.3 243.7L67.3 241.5M58.5 224.2L60.3 231.8M70.3 243.7L70.3 244.0M70.3 244.0L68.0 251.2M81.4 240.0L80.5 248.6M70.3 244.0L76.2 249.3M80.5 248.6L76.2 249.3M68.3 252.6L74.2 256.2M76.2 249.3L74.2 256.2M65.1 263.2L72.4 262.1M72.4 262.1L74.6 256.7M64.4 265.4L65.4 268.9M64.4 265.4L55.0 267.7M65.4 268.9L62.0 273.8M62.0 273.8L55.6 273.3M72.4 262.1L74.0 264.5M74.0 264.5L74.8 271.1M74.8 271.1L71.4 272.1M57.9 257.1L52.4 261.2M71.4 272.1L67.3 280.8M66.0 280.9L62.0 273.8M54.2 275.4L55.6 273.3M74.8 271.1L80.2 273.6M80.2 273.6L80.5 279.9M203.7 240.7L196.7 237.0M207.3 235.0L202.2 228.9M202.2 228.9L197.0 235.3M196.7 237.0L197.0 235.3M83.8 222.9L84.3 217.4M79.8 214.4L84.3 217.4M94.2 253.6L94.5 255.2M94.2 253.6L90.5 247.4M94.5 255.2L90.0 257.5M90.0 257.5L82.6 253.1M90.5 247.4L82.8 251.8M82.8 251.8L82.6 253.1M90.6 241.7L90.5 247.4M90.6 241.7L82.5 239.4M80.5 248.6L82.8 251.8M112.8 257.2L107.2 258.2M113.8 266.8L106.4 261.4M106.4 261.4L107.2 258.2M116.4 226.3L117.0 225.9M117.1 225.6L117.0 225.9M114.1 217.6L108.1 216.9M108.1 216.9L106.4 218.4M106.4 218.4L106.2 220.0M124.1 220.9L127.4 222.7M124.1 220.9L117.1 225.6M122.0 230.2L117.0 225.9M124.1 220.9L124.0 215.2M117.9 212.4L114.1 217.6M116.4 226.3L113.4 237.5M113.5 237.8L113.4 237.5M110.9 226.1L107.0 229.1M99.9 226.8L105.4 229.4M99.9 226.8L106.2 220.0M107.0 229.1L105.4 229.4M105.6 248.9L99.9 246.7M105.6 248.9L107.1 247.5M107.1 247.5L107.7 240.1M99.9 246.7L95.1 238.8M107.7 240.1L104.8 238.6M104.8 238.6L95.5 238.2M95.1 238.8L95.5 238.2M94.2 253.6L99.9 246.7M94.5 255.2L95.1 255.6M95.1 255.6L104.2 254.1M104.2 254.1L105.6 248.9M107.2 258.2L104.2 254.1M90.6 241.7L95.1 238.8M105.4 229.4L104.8 238.6M95.2 231.9L95.5 238.2M99.7 226.8L99.9 226.8M220.2 272.9L211.9 277.8M211.5 265.4L208.2 267.2M211.9 277.8L208.8 273.4M208.2 267.2L208.8 273.4M208.2 253.6L203.2 258.6M208.2 267.2L202.9 265.2M166.8 264.3L171.3 265.7M173.7 263.3L171.3 265.7M162.9 273.2L171.8 272.5M171.3 265.7L171.8 272.5M173.6 280.9L174.8 275.6M174.8 275.6L171.8 272.5M201.4 248.0L195.5 248.9M203.2 258.6L196.7 255.7M196.7 255.7L195.5 248.9M187.1 247.1L191.2 249.1M187.1 237.9L194.3 239.4M194.3 239.4L194.7 248.4M191.2 249.1L194.7 248.4M194.3 239.4L196.7 237.0M196.7 255.7L192.2 261.7M191.2 249.1L187.4 255.8M177.9 255.0L178.0 253.7M177.9 255.0L180.5 256.5M238.3 247.4L239.9 239.0M234.2 236.2L235.1 235.9M239.9 239.0L235.1 235.9M233.7 224.5L238.6 228.8M235.1 235.9L238.6 228.8M246.5 224.2L240.3 228.8M238.6 228.8L240.3 228.8M214.5 219.0L210.8 212.9M214.5 219.0L214.4 223.2M205.7 219.9L207.2 223.7M211.0 208.6L210.8 212.9M220.8 210.8L214.5 219.0M218.4 223.4L214.4 223.2M213.9 231.9L212.6 224.3M202.2 228.4L202.2 228.9M202.2 228.4L207.2 223.7M201.0 215.4L205.7 219.9M195.2 224.0L202.2 228.4M195.2 224.0L196.3 216.3M160.0 234.7L167.3 229.5M162.1 223.2L167.3 229.5M143.8 207.3L144.7 216.6M140.7 207.3L135.1 216.8M144.7 216.6L140.2 220.4M140.2 220.4L135.2 216.9M135.2 216.9L135.1 216.8M152.7 208.7L154.1 214.9M150.9 218.1L144.7 216.6M128.9 211.7L135.1 216.8M140.5 223.9L140.2 220.4M36.4 256.4L37.9 249.6M37.9 249.6L32.9 245.7M51.6 240.7L48.0 237.8M48.0 237.8L40.8 241.5M47.6 249.6L51.3 247.5M47.6 249.6L42.2 247.0M42.2 247.0L40.8 241.5M56.9 250.2L51.3 247.5M55.9 238.8L51.6 240.7M46.3 255.2L47.6 249.6M37.9 249.6L42.2 247.0M51.5 230.3L50.4 225.9M47.5 234.7L41.2 230.5M47.7 224.4L50.4 225.9M47.7 224.4L43.8 225.4M43.8 225.4L41.2 230.5M55.7 222.8L50.4 225.9M48.0 237.8L47.5 234.7M48.6 217.6L47.7 224.4M40.4 220.5L43.8 225.4M180.3 242.2L175.7 245.1M180.3 242.2L177.6 231.7M170.8 237.7L173.9 231.0M170.8 237.7L174.7 244.6M177.6 231.7L173.9 231.0M184.0 242.0L180.3 242.2M178.0 253.7L175.7 245.1M164.4 238.8L170.8 237.7M167.3 229.5L173.2 229.9M173.2 229.9L173.9 231.0M166.3 247.9L174.7 244.6M175.5 256.4L177.9 255.0M183.1 230.4L185.8 233.0M185.8 233.0L191.8 231.1M191.8 231.1L193.2 224.8M193.2 224.8L187.1 223.7M187.1 237.9L185.8 233.0M197.0 235.3L191.8 231.1M194.9 215.3L185.2 217.5M84.3 217.4L88.2 213.3M88.2 213.3L96.3 215.2M106.4 218.4L97.1 214.7M99.5 208.2L97.1 214.7M97.1 214.7L96.3 215.2M88.2 213.3L87.2 208.9M71.7 211.5L77.5 206.4M90.0 257.5L87.7 261.2M87.7 261.2L83.0 262.6M80.2 273.6L82.7 271.4M91.6 281.6L87.7 271.2M82.7 271.4L87.7 271.2M74.0 264.5L82.7 263.2M82.7 271.4L82.7 263.2M98.2 264.9L101.8 266.4M98.2 264.9L92.3 267.7M102.8 268.9L101.8 266.4M102.8 268.9L98.8 278.7M92.3 267.7L91.3 269.6M95.1 255.6L98.2 264.9M106.4 261.4L101.8 266.4M87.7 261.2L92.3 267.7M109.1 271.2L102.8 268.9M192.9 280.2L185.1 278.4M243.5 238.0L250.1 243.4M244.2 234.2L250.1 232.4M252.5 240.9L250.1 243.4M253.0 235.1L250.1 232.4M239.9 239.0L243.5 238.0M249.3 247.2L250.1 243.4M249.0 226.0L250.1 232.4M259.0 231.2L253.0 235.1M260.9 241.5L252.5 240.9M173.2 229.9L173.1 225.5M183.9 227.8L178.4 222.0M178.4 222.0L173.1 225.5M36.6 239.3L33.1 239.8M36.6 239.3L41.2 230.5M31.1 233.4L35.3 228.2M31.1 233.4L33.1 239.8M33.1 239.8L33.1 239.8M35.3 228.2L41.2 230.5M32.9 245.7L33.1 239.8M40.8 241.5L36.6 239.3M23.4 229.8L31.1 233.4M33.8 225.1L35.3 228.2M23.2 241.1L33.1 239.8M201.4 278.7L201.9 275.1M202.9 265.2L199.9 266.5M192.2 261.7L192.2 264.8M192.2 264.8L199.9 266.5M193.3 280.1L193.5 276.1M193.5 276.1L199.6 272.3M199.9 266.5L199.6 272.3M185.2 217.5L184.5 216.9M178.4 222.0L179.8 218.8M184.5 216.9L179.8 218.8M184.5 216.9L183.3 209.7M167.5 219.6L169.6 219.7M169.6 219.7L173.2 215.4M173.5 211.0L168.0 207.5M164.0 209.8L163.1 212.7M173.1 225.5L169.6 219.7M179.8 218.8L173.2 215.4M180.0 207.9L173.5 211.0M191.2 265.6L183.4 263.6M189.9 269.8L182.3 274.0M183.4 263.6L180.3 266.9M180.3 266.9L180.2 273.5M180.2 273.5L182.3 274.0M192.2 264.8L191.2 265.6M193.5 276.1L189.9 269.8M185.1 278.4L182.3 274.0M174.8 275.6L180.2 273.5" stroke="#a24a22" stroke-width="3.0" stroke-opacity="0.55"/>
<path d="M223.1 246.4L222.8 243.8M223.1 246.4L218.8 249.0M210.9 241.7L211.8 248.4M210.9 241.7L215.4 239.0M218.8 249.0L211.8 248.4M215.4 239.0L222.8 243.8M210.9 241.7L207.3 239.2M203.7 240.7L207.3 239.2M203.7 240.7L201.4 248.0M211.8 248.4L208.2 251.7M201.4 248.0L208.2 251.7M220.8 263.7L220.5 258.7M220.8 263.7L218.2 267.4M220.5 258.7L219.1 257.5M219.1 257.5L212.6 258.5M229.0 256.1L220.5 258.7M229.0 256.1L226.7 248.3M226.7 248.3L223.1 246.4M208.2 253.6L208.2 251.7M208.2 253.6L212.6 258.5M229.0 256.1L230.4 257.2M230.4 257.2L231.7 261.9M229.3 265.1L231.7 261.9M245.9 269.4L250.1 261.4M245.9 269.4L239.5 262.2M246.5 257.8L241.8 259.2M239.5 262.2L241.8 259.2M240.7 273.5L238.1 271.3M245.6 271.7L245.9 269.4M238.1 271.3L236.3 263.3M230.4 257.2L236.6 253.6M236.6 253.6L241.8 259.2M245.6 271.7L248.8 273.8M248.8 273.8L248.6 280.2M252.7 283.7L258.4 275.8M54.8 208.9L54.8 216.1M48.6 217.6L43.7 213.7M54.8 216.1L54.1 217.1M7.4 242.1L8.1 248.9M7.4 242.1L0.2 240.1M1.4 250.7L8.1 248.9M8.1 248.9L8.5 249.4M4.2 259.2L9.6 256.8M9.6 256.8L8.5 249.4M23.2 241.1L22.6 245.9M23.2 241.1L20.8 238.2M13.8 241.0L16.3 248.7M22.6 245.9L17.7 249.3M9.7 240.4L13.8 241.0M8.5 249.4L16.3 248.7M67.6 230.9L73.0 232.0M67.6 230.9L68.8 225.0M68.8 225.0L74.9 222.1M80.6 224.7L74.9 222.1M80.6 224.7L79.8 227.7M79.8 227.7L73.0 232.0M79.8 227.7L82.7 235.6M82.7 235.6L82.5 239.4M82.5 239.4L81.4 240.0M78.0 239.8L81.4 240.0M149.9 255.4L148.3 249.2M149.9 255.4L158.1 257.3M156.2 245.4L161.0 250.5M158.1 257.3L158.8 256.8M147.2 248.5L148.3 249.2M147.2 248.5L143.3 240.3M156.4 243.9L149.9 238.6M149.9 238.6L143.3 240.3M121.9 264.1L118.0 262.8M121.9 264.1L126.1 261.5M118.0 262.8L117.1 260.7M117.1 260.7L123.1 251.2M126.1 261.5L127.1 255.6M124.0 272.5L121.9 264.1M124.0 272.5L125.7 273.1M133.7 265.4L126.1 261.5M133.7 265.4L130.6 271.8M125.7 273.1L130.6 271.8M139.1 252.4L147.2 248.5M139.1 252.4L139.5 256.0M149.9 255.4L148.0 257.7M139.5 256.0L148.0 257.7M139.1 252.4L135.6 249.6M135.3 249.7L135.6 249.6M135.3 249.7L130.2 255.1M133.7 265.4L137.2 263.9M130.2 255.1L127.1 255.6M137.2 260.6L137.2 263.9M118.0 275.6L112.8 270.2M118.0 275.6L116.3 281.2M108.0 278.9L109.1 271.2M109.1 271.2L112.8 270.2M124.0 272.5L118.0 275.6M118.0 262.8L113.8 266.8M113.8 266.8L112.8 270.2M125.7 273.1L127.4 280.3M130.6 271.8L136.1 277.0M136.4 280.4L136.1 277.0M228.9 270.4L230.2 271.2M230.2 271.2L233.1 279.2M220.2 272.9L222.8 274.0M220.2 272.9L218.2 267.4M229.3 265.1L228.9 270.4M238.1 271.3L230.2 271.2M236.6 253.6L239.0 248.1M246.5 257.8L247.1 248.9M239.0 248.1L247.1 248.9M250.1 261.4L251.6 261.4M251.6 261.4L257.4 258.0M249.3 247.2L247.1 248.9M215.4 239.0L216.4 234.0M222.8 243.8L224.4 240.3M224.4 240.3L225.1 232.4M225.1 232.4L224.9 232.4M216.4 234.0L224.9 232.4M225.2 232.4L229.8 225.8M229.8 225.8L223.5 219.4M223.5 219.4L218.4 223.4M224.9 232.4L218.4 223.4M204.2 208.6L201.0 215.4M201.0 215.4L196.3 216.3M196.3 216.3L194.9 215.3M259.0 231.2L256.0 225.4M256.0 225.4L256.3 224.7M155.8 230.7L156.8 227.0M155.8 230.7L154.6 231.1M146.2 229.1L154.6 231.1M146.2 229.1L145.1 227.0M156.8 227.0L151.2 220.5M145.1 227.0L151.2 220.5M20.5 232.4L13.7 230.1M20.5 232.4L20.8 238.2M9.7 240.4L10.2 232.1M10.2 232.1L3.8 230.3M13.7 230.1L13.0 223.6M8.1 221.7L13.0 223.6M8.1 221.7L3.2 227.8M71.7 211.5L72.5 214.6M72.5 214.6L64.5 219.5M63.8 207.6L62.6 216.5M62.6 216.5L64.4 219.5M64.4 219.5L64.5 219.5M68.8 225.0L64.5 219.5M73.4 215.4L74.9 222.1M73.4 215.4L72.5 214.6M54.8 216.1L62.6 216.5M3.3 273.6L11.5 271.1M1.6 264.7L11.3 267.1M11.3 267.1L11.5 271.1M13.3 273.6L11.5 271.1M13.3 273.6L13.5 278.9M54.2 275.4L55.7 282.0M54.2 275.4L47.4 275.3M47.4 275.3L44.3 276.8M44.3 276.8L44.3 281.4M165.5 259.2L170.7 255.5M161.0 250.5L165.3 249.3M165.3 249.3L170.7 255.5M80.6 224.7L83.8 222.9M82.7 235.6L90.0 228.8M90.0 228.8L87.1 224.4M83.8 222.9L87.1 224.4M155.8 230.7L160.0 234.7M156.4 243.9L161.0 237.4M160.0 234.7L161.0 237.4M166.3 247.9L165.3 249.3M166.3 247.9L164.4 238.8M161.0 237.4L164.4 238.8M142.1 236.9L142.5 239.8M142.1 236.9L134.6 230.7M137.5 242.4L128.8 239.0M128.8 239.0L130.6 233.1M130.6 233.1L134.6 230.7M143.3 240.3L142.5 239.8M146.2 229.1L142.1 236.9M135.6 249.6L137.5 242.4M135.3 249.7L125.8 245.8M128.8 239.0L127.9 239.6M127.9 239.6L125.8 245.8M123.1 251.2L122.3 249.2M125.8 245.8L122.3 249.2M112.8 257.2L117.1 260.7M112.8 257.2L115.1 250.1M122.3 249.2L118.9 248.3M141.4 271.7L139.8 265.3M139.8 265.3L147.2 263.4M147.2 263.4L152.0 267.4M147.5 274.6L152.5 271.6M152.0 267.4L152.5 271.6M136.1 277.0L141.4 271.7M137.2 263.9L139.8 265.3M145.7 281.5L147.5 274.6M148.0 257.7L147.2 263.4M157.6 261.7L158.1 257.3M157.6 261.7L152.0 267.4M153.3 272.0L152.5 271.6M153.3 272.0L156.4 282.4M126.9 230.0L122.0 230.2M126.9 230.0L130.6 233.1M127.9 239.6L121.7 237.0M122.0 230.2L121.7 237.0M118.9 248.3L115.0 238.6M90.0 228.8L95.2 231.9M95.8 219.8L87.1 224.4M95.8 219.8L99.7 226.8M95.2 231.9L99.7 226.8M157.6 261.7L162.8 266.5M165.5 259.2L166.8 264.3M153.3 272.0L161.7 272.0M162.8 266.5L161.7 272.0M162.9 273.2L161.7 272.0M251.6 261.4L256.1 268.0M248.8 273.8L256.6 273.2M224.4 240.3L232.7 240.6M225.2 232.4L234.2 236.2M226.7 248.3L233.3 245.6M232.7 240.6L233.3 245.6M239.0 248.1L238.3 247.4M233.3 245.6L238.3 247.4M207.3 239.2L207.3 235.0M216.4 234.0L213.9 231.9M213.9 231.9L207.3 235.0M235.4 217.6L232.1 214.9M235.4 217.6L239.8 216.3M239.8 216.3L240.6 209.1M232.1 214.9L232.3 206.1M233.7 224.5L235.4 217.6M233.7 224.5L229.8 225.8M224.4 215.7L223.5 219.4M224.4 215.7L232.1 214.9M247.8 217.2L247.7 206.3M247.8 217.2L256.7 215.9M246.0 218.7L247.8 217.2M246.0 218.7L239.8 216.3M256.0 225.4L249.0 226.0M246.0 218.7L246.5 224.2M249.0 226.0L246.5 224.2M224.4 215.7L220.8 210.8M145.1 227.0L140.5 223.9M134.6 230.7L135.3 228.3M140.5 223.9L135.3 228.3M126.9 230.0L127.4 222.7M127.4 222.7L129.6 222.6M135.3 228.3L129.6 222.6M117.9 212.4L116.0 207.1M117.9 212.4L124.0 215.2M124.0 215.2L128.9 211.7M129.4 208.1L128.9 211.7M156.8 227.0L160.9 223.4M154.1 214.9L150.9 218.1M5.9 215.7L13.8 213.8M13.8 213.8L12.6 205.7M5.4 216.2L8.1 221.7M24.9 224.6L30.6 223.1M24.9 224.6L19.4 217.4M30.6 223.1L32.6 215.7M21.8 214.3L19.4 217.2M31.6 214.2L32.6 215.7M19.4 217.4L19.4 217.2M20.5 232.4L23.4 229.8M23.4 229.8L24.9 224.6M13.0 223.6L19.4 217.4M22.1 209.6L21.8 214.3M13.8 213.8L19.4 217.2M32.3 210.3L31.6 214.2M43.7 213.7L40.4 216.8M40.4 216.8L32.6 215.7M54.1 217.1L55.7 222.8M64.4 219.5L58.5 224.2M58.5 224.2L55.7 222.8M40.4 216.8L40.4 220.5M30.6 223.1L33.8 225.1M40.4 220.5L33.8 225.1M30.5 271.1L27.7 265.0M36.5 272.2L37.6 271.6M27.7 265.0L32.6 261.1M32.6 261.1L37.8 270.9M37.8 270.9L37.6 271.6M24.2 274.4L30.5 271.1M24.2 274.4L23.7 277.6M23.7 277.6L29.5 283.2M33.3 280.0L36.5 272.2M33.6 257.2L32.6 261.1M36.4 256.4L40.4 257.9M42.4 265.7L40.4 257.9M42.4 265.7L37.8 270.9M48.4 265.8L42.4 265.7M48.4 265.8L47.4 275.3M21.0 263.7L20.8 263.9M21.0 263.7L22.3 257.8M20.8 263.9L14.2 263.8M22.3 257.8L18.1 253.9M18.1 253.9L10.8 257.4M10.8 257.4L14.2 263.8M24.2 274.4L21.1 270.0M21.1 270.0L20.8 263.9M27.7 265.0L21.0 263.7M28.6 254.3L33.6 257.2M28.6 254.3L22.3 257.8M11.3 267.1L14.2 263.8M21.1 270.0L13.3 273.6M22.6 245.9L28.1 250.8M17.7 249.3L18.1 253.9M28.6 254.3L28.1 250.8M23.7 277.6L16.9 280.5M62.8 258.9L68.3 252.6M62.8 258.9L57.9 257.1M58.7 249.0L56.9 250.2M58.7 249.0L68.0 251.2M68.0 251.2L68.3 252.6M56.9 250.2L57.9 257.1M51.9 264.2L48.4 265.8M51.9 264.2L52.4 261.2M40.4 257.9L46.3 255.2M52.4 261.2L46.3 255.2M55.9 238.8L61.7 243.4M65.4 232.6L67.3 241.5M65.4 232.6L60.3 231.8M67.3 241.5L61.7 243.4M60.3 231.8L59.7 232.1M67.6 230.9L65.4 232.6M70.3 243.7L67.3 241.5M58.5 224.2L60.3 231.8M70.3 243.7L70.3 244.0M70.3 244.0L68.0 251.2M81.4 240.0L80.5 248.6M70.3 244.0L76.2 249.3M80.5 248.6L76.2 249.3M68.3 252.6L74.2 256.2M76.2 249.3L74.2 256.2M65.1 263.2L72.4 262.1M72.4 262.1L74.6 256.7M64.4 265.4L65.4 268.9M64.4 265.4L55.0 267.7M65.4 268.9L62.0 273.8M62.0 273.8L55.6 273.3M72.4 262.1L74.0 264.5M74.0 264.5L74.8 271.1M74.8 271.1L71.4 272.1M57.9 257.1L52.4 261.2M71.4 272.1L67.3 280.8M66.0 280.9L62.0 273.8M54.2 275.4L55.6 273.3M74.8 271.1L80.2 273.6M80.2 273.6L80.5 279.9M203.7 240.7L196.7 237.0M207.3 235.0L202.2 228.9M202.2 228.9L197.0 235.3M196.7 237.0L197.0 235.3M83.8 222.9L84.3 217.4M79.8 214.4L84.3 217.4M94.2 253.6L94.5 255.2M94.2 253.6L90.5 247.4M94.5 255.2L90.0 257.5M90.0 257.5L82.6 253.1M90.5 247.4L82.8 251.8M82.8 251.8L82.6 253.1M90.6 241.7L90.5 247.4M90.6 241.7L82.5 239.4M80.5 248.6L82.8 251.8M112.8 257.2L107.2 258.2M113.8 266.8L106.4 261.4M106.4 261.4L107.2 258.2M116.4 226.3L117.0 225.9M117.1 225.6L117.0 225.9M114.1 217.6L108.1 216.9M108.1 216.9L106.4 218.4M106.4 218.4L106.2 220.0M124.1 220.9L127.4 222.7M124.1 220.9L117.1 225.6M122.0 230.2L117.0 225.9M124.1 220.9L124.0 215.2M117.9 212.4L114.1 217.6M116.4 226.3L113.4 237.5M113.5 237.8L113.4 237.5M110.9 226.1L107.0 229.1M99.9 226.8L105.4 229.4M99.9 226.8L106.2 220.0M107.0 229.1L105.4 229.4M105.6 248.9L99.9 246.7M105.6 248.9L107.1 247.5M107.1 247.5L107.7 240.1M99.9 246.7L95.1 238.8M107.7 240.1L104.8 238.6M104.8 238.6L95.5 238.2M95.1 238.8L95.5 238.2M94.2 253.6L99.9 246.7M94.5 255.2L95.1 255.6M95.1 255.6L104.2 254.1M104.2 254.1L105.6 248.9M107.2 258.2L104.2 254.1M90.6 241.7L95.1 238.8M105.4 229.4L104.8 238.6M95.2 231.9L95.5 238.2M99.7 226.8L99.9 226.8M220.2 272.9L211.9 277.8M211.5 265.4L208.2 267.2M211.9 277.8L208.8 273.4M208.2 267.2L208.8 273.4M208.2 253.6L203.2 258.6M208.2 267.2L202.9 265.2M166.8 264.3L171.3 265.7M173.7 263.3L171.3 265.7M162.9 273.2L171.8 272.5M171.3 265.7L171.8 272.5M173.6 280.9L174.8 275.6M174.8 275.6L171.8 272.5M201.4 248.0L195.5 248.9M203.2 258.6L196.7 255.7M196.7 255.7L195.5 248.9M187.1 247.1L191.2 249.1M187.1 237.9L194.3 239.4M194.3 239.4L194.7 248.4M191.2 249.1L194.7 248.4M194.3 239.4L196.7 237.0M196.7 255.7L192.2 261.7M191.2 249.1L187.4 255.8M177.9 255.0L178.0 253.7M177.9 255.0L180.5 256.5M238.3 247.4L239.9 239.0M234.2 236.2L235.1 235.9M239.9 239.0L235.1 235.9M233.7 224.5L238.6 228.8M235.1 235.9L238.6 228.8M246.5 224.2L240.3 228.8M238.6 228.8L240.3 228.8M214.5 219.0L210.8 212.9M214.5 219.0L214.4 223.2M205.7 219.9L207.2 223.7M211.0 208.6L210.8 212.9M220.8 210.8L214.5 219.0M218.4 223.4L214.4 223.2M213.9 231.9L212.6 224.3M202.2 228.4L202.2 228.9M202.2 228.4L207.2 223.7M201.0 215.4L205.7 219.9M195.2 224.0L202.2 228.4M195.2 224.0L196.3 216.3M160.0 234.7L167.3 229.5M162.1 223.2L167.3 229.5M143.8 207.3L144.7 216.6M140.7 207.3L135.1 216.8M144.7 216.6L140.2 220.4M140.2 220.4L135.2 216.9M135.2 216.9L135.1 216.8M152.7 208.7L154.1 214.9M150.9 218.1L144.7 216.6M128.9 211.7L135.1 216.8M140.5 223.9L140.2 220.4M36.4 256.4L37.9 249.6M37.9 249.6L32.9 245.7M51.6 240.7L48.0 237.8M48.0 237.8L40.8 241.5M47.6 249.6L51.3 247.5M47.6 249.6L42.2 247.0M42.2 247.0L40.8 241.5M56.9 250.2L51.3 247.5M55.9 238.8L51.6 240.7M46.3 255.2L47.6 249.6M37.9 249.6L42.2 247.0M51.5 230.3L50.4 225.9M47.5 234.7L41.2 230.5M47.7 224.4L50.4 225.9M47.7 224.4L43.8 225.4M43.8 225.4L41.2 230.5M55.7 222.8L50.4 225.9M48.0 237.8L47.5 234.7M48.6 217.6L47.7 224.4M40.4 220.5L43.8 225.4M180.3 242.2L175.7 245.1M180.3 242.2L177.6 231.7M170.8 237.7L173.9 231.0M170.8 237.7L174.7 244.6M177.6 231.7L173.9 231.0M184.0 242.0L180.3 242.2M178.0 253.7L175.7 245.1M164.4 238.8L170.8 237.7M167.3 229.5L173.2 229.9M173.2 229.9L173.9 231.0M166.3 247.9L174.7 244.6M175.5 256.4L177.9 255.0M183.1 230.4L185.8 233.0M185.8 233.0L191.8 231.1M191.8 231.1L193.2 224.8M193.2 224.8L187.1 223.7M187.1 237.9L185.8 233.0M197.0 235.3L191.8 231.1M194.9 215.3L185.2 217.5M84.3 217.4L88.2 213.3M88.2 213.3L96.3 215.2M106.4 218.4L97.1 214.7M99.5 208.2L97.1 214.7M97.1 214.7L96.3 215.2M88.2 213.3L87.2 208.9M71.7 211.5L77.5 206.4M90.0 257.5L87.7 261.2M87.7 261.2L83.0 262.6M80.2 273.6L82.7 271.4M91.6 281.6L87.7 271.2M82.7 271.4L87.7 271.2M74.0 264.5L82.7 263.2M82.7 271.4L82.7 263.2M98.2 264.9L101.8 266.4M98.2 264.9L92.3 267.7M102.8 268.9L101.8 266.4M102.8 268.9L98.8 278.7M92.3 267.7L91.3 269.6M95.1 255.6L98.2 264.9M106.4 261.4L101.8 266.4M87.7 261.2L92.3 267.7M109.1 271.2L102.8 268.9M192.9 280.2L185.1 278.4M243.5 238.0L250.1 243.4M244.2 234.2L250.1 232.4M252.5 240.9L250.1 243.4M253.0 235.1L250.1 232.4M239.9 239.0L243.5 238.0M249.3 247.2L250.1 243.4M249.0 226.0L250.1 232.4M259.0 231.2L253.0 235.1M260.9 241.5L252.5 240.9M173.2 229.9L173.1 225.5M183.9 227.8L178.4 222.0M178.4 222.0L173.1 225.5M36.6 239.3L33.1 239.8M36.6 239.3L41.2 230.5M31.1 233.4L35.3 228.2M31.1 233.4L33.1 239.8M33.1 239.8L33.1 239.8M35.3 228.2L41.2 230.5M32.9 245.7L33.1 239.8M40.8 241.5L36.6 239.3M23.4 229.8L31.1 233.4M33.8 225.1L35.3 228.2M23.2 241.1L33.1 239.8M201.4 278.7L201.9 275.1M202.9 265.2L199.9 266.5M192.2 261.7L192.2 264.8M192.2 264.8L199.9 266.5M193.3 280.1L193.5 276.1M193.5 276.1L199.6 272.3M199.9 266.5L199.6 272.3M185.2 217.5L184.5 216.9M178.4 222.0L179.8 218.8M184.5 216.9L179.8 218.8M184.5 216.9L183.3 209.7M167.5 219.6L169.6 219.7M169.6 219.7L173.2 215.4M173.5 211.0L168.0 207.5M164.0 209.8L163.1 212.7M173.1 225.5L169.6 219.7M179.8 218.8L173.2 215.4M180.0 207.9L173.5 211.0M191.2 265.6L183.4 263.6M189.9 269.8L182.3 274.0M183.4 263.6L180.3 266.9M180.3 266.9L180.2 273.5M180.2 273.5L182.3 274.0M192.2 264.8L191.2 265.6M193.5 276.1L189.9 269.8M185.1 278.4L182.3 274.0M174.8 275.6L180.2 273.5" stroke="#5a2a14" stroke-width="1.15" stroke-opacity="0.88"/>
</g></g>
<line x1="10" y1="214" x2="253" y2="214" stroke="#d89464" stroke-width="0.8"/>
<line x1="10" y1="154.5" x2="253" y2="154.5" stroke="#dc9c78" stroke-width="1"/>
<text x="11.8" y="165.9" font-family="'Liberation Sans',Arial,sans-serif" font-size="13" fill="#fff" stroke="#fff" stroke-width="2.3" stroke-linejoin="round" opacity="0.97">(d)</text>
<text x="11.8" y="165.9" font-family="'Liberation Sans',Arial,sans-serif" font-size="13" fill="#1e2636" stroke="#1e2636" stroke-width="0.45" stroke-linejoin="round">(d)</text>
<text x="120.2" y="186.7" font-family="'Liberation Sans',Arial,sans-serif" font-size="10.4" fill="#fff" stroke="#fff" stroke-width="2.3" stroke-linejoin="round" opacity="0.97">HRS</text>
<text x="120.2" y="186.7" font-family="'Liberation Sans',Arial,sans-serif" font-size="10.4" fill="#1e2636" stroke="#1e2636" stroke-width="0.45" stroke-linejoin="round">HRS</text>
<text x="120.2" y="251" font-family="'Liberation Sans',Arial,sans-serif" font-size="10.4" fill="#fff" stroke="#fff" stroke-width="2.3" stroke-linejoin="round" opacity="0.97">LMC</text>
<text x="120.2" y="251" font-family="'Liberation Sans',Arial,sans-serif" font-size="10.4" fill="#1e2636" stroke="#1e2636" stroke-width="0.45" stroke-linejoin="round">LMC</text>
<text x="213.6" y="200.2" font-family="'Liberation Sans',Arial,sans-serif" font-size="10.2" fill="#fff" stroke="#fff" stroke-width="2.3" stroke-linejoin="round" opacity="0.97">200<tspan font-style="italic">μm</tspan></text>
<text x="213.6" y="200.2" font-family="'Liberation Sans',Arial,sans-serif" font-size="10.2" fill="#1e2636" stroke="#1e2636" stroke-width="0.45" stroke-linejoin="round">200<tspan font-style="italic">μm</tspan></text>
<text x="213.6" y="266.1" font-family="'Liberation Sans',Arial,sans-serif" font-size="10.2" fill="#fff" stroke="#fff" stroke-width="2.3" stroke-linejoin="round" opacity="0.97">200<tspan font-style="italic">μm</tspan></text>
<text x="213.6" y="266.1" font-family="'Liberation Sans',Arial,sans-serif" font-size="10.2" fill="#1e2636" stroke="#1e2636" stroke-width="0.45" stroke-linejoin="round">200<tspan font-style="italic">μm</tspan></text>
<line x1="214.7" y1="204.3" x2="244.2" y2="204.3" stroke="#fff" stroke-width="2.6"/>
<line x1="215" y1="204.3" x2="244" y2="204.3" stroke="#6a7890" stroke-width="1.1"/>
<line x1="214.7" y1="269.7" x2="244.2" y2="269.7" stroke="#fff" stroke-width="2.6"/>
<line x1="215" y1="269.7" x2="244" y2="269.7" stroke="#6a7890" stroke-width="1.1"/>
<rect x="40.6" y="23" width="136.2" height="94.2" fill="none" stroke="#3a3a3a" stroke-width="1.2"/>
<line x1="40.6" y1="117.2" x2="43.1" y2="117.2" stroke="#3a3a3a" stroke-width="1"/>
<text x="38.2" y="120.8" font-size="10.2" text-anchor="end" font-weight="normal" fill="#222" stroke="#222" stroke-width="0.28" font-family="'Liberation Serif','Times New Roman',serif" >0.0</text>
<line x1="40.6" y1="99.98" x2="43.1" y2="99.98" stroke="#3a3a3a" stroke-width="1"/>
<text x="38.2" y="103.58" font-size="10.2" text-anchor="end" font-weight="normal" fill="#222" stroke="#222" stroke-width="0.28" font-family="'Liberation Serif','Times New Roman',serif" >0.2</text>
<line x1="40.6" y1="82.76" x2="43.1" y2="82.76" stroke="#3a3a3a" stroke-width="1"/>
<text x="38.2" y="86.36" font-size="10.2" text-anchor="end" font-weight="normal" fill="#222" stroke="#222" stroke-width="0.28" font-family="'Liberation Serif','Times New Roman',serif" >0.4</text>
<line x1="40.6" y1="65.54" x2="43.1" y2="65.54" stroke="#3a3a3a" stroke-width="1"/>
<text x="38.2" y="69.14" font-size="10.2" text-anchor="end" font-weight="normal" fill="#222" stroke="#222" stroke-width="0.28" font-family="'Liberation Serif','Times New Roman',serif" >0.6</text>
<line x1="40.6" y1="48.32" x2="43.1" y2="48.32" stroke="#3a3a3a" stroke-width="1"/>
<text x="38.2" y="51.92" font-size="10.2" text-anchor="end" font-weight="normal" fill="#222" stroke="#222" stroke-width="0.28" font-family="'Liberation Serif','Times New Roman',serif" >0.8</text>
<line x1="40.6" y1="31.1" x2="43.1" y2="31.1" stroke="#3a3a3a" stroke-width="1"/>
<text x="38.2" y="34.7" font-size="10.2" text-anchor="end" font-weight="normal" fill="#222" stroke="#222" stroke-width="0.28" font-family="'Liberation Serif','Times New Roman',serif" >1.0</text>
<line x1="40.6" y1="117.2" x2="40.6" y2="114.7" stroke="#3a3a3a" stroke-width="1"/>
<text x="40.6" y="127.8" font-size="10.2" text-anchor="middle" font-weight="normal" fill="#222" stroke="#222" stroke-width="0.28" font-family="'Liberation Serif','Times New Roman',serif" >1200</text>
<line x1="67.84" y1="117.2" x2="67.84" y2="114.7" stroke="#3a3a3a" stroke-width="1"/>
<text x="67.84" y="127.8" font-size="10.2" text-anchor="middle" font-weight="normal" fill="#222" stroke="#222" stroke-width="0.28" font-family="'Liberation Serif','Times New Roman',serif" >1250</text>
<line x1="95.08" y1="117.2" x2="95.08" y2="114.7" stroke="#3a3a3a" stroke-width="1"/>
<text x="95.08" y="127.8" font-size="10.2" text-anchor="middle" font-weight="normal" fill="#222" stroke="#222" stroke-width="0.28" font-family="'Liberation Serif','Times New Roman',serif" >1300</text>
<line x1="122.32" y1="117.2" x2="122.32" y2="114.7" stroke="#3a3a3a" stroke-width="1"/>
<text x="122.32" y="127.8" font-size="10.2" text-anchor="middle" font-weight="normal" fill="#222" stroke="#222" stroke-width="0.28" font-family="'Liberation Serif','Times New Roman',serif" >1350</text>
<line x1="149.56" y1="117.2" x2="149.56" y2="114.7" stroke="#3a3a3a" stroke-width="1"/>
<text x="149.56" y="127.8" font-size="10.2" text-anchor="middle" font-weight="normal" fill="#222" stroke="#222" stroke-width="0.28" font-family="'Liberation Serif','Times New Roman',serif" >1400</text>
<line x1="176.8" y1="117.2" x2="176.8" y2="114.7" stroke="#3a3a3a" stroke-width="1"/>
<text x="176.8" y="127.8" font-size="10.2" text-anchor="middle" font-weight="normal" fill="#222" stroke="#222" stroke-width="0.28" font-family="'Liberation Serif','Times New Roman',serif" >1450</text>
<path d="M40.6,60.8 C43.03,59.88 50.25,57.28 55.2,55.3 C60.15,53.32 65.25,51.17 70.3,48.9 C75.35,46.63 80.45,44.25 85.5,41.7 C90.55,39.15 97.07,35.33 100.6,33.6 C104.13,31.87 105.68,31.68 106.7,31.3 L119,31.3 C122.5,31.4 125,33.2 127.5,36.3 C131,42 134.5,51.5 138,62 L146.2,91.9 L151.8,117.2" fill="none" stroke="#222" stroke-width="1.1"/>
<path d="M120.8,117.2 C121.33,116.9 122.88,116.35 124,115.4 C125.12,114.45 126.37,113.15 127.5,111.5 C128.63,109.85 129.83,107.42 130.8,105.5 C131.77,103.58 132.18,102.75 133.3,100 C134.42,97.25 136.1,92.62 137.5,89 C138.9,85.38 140.35,82.8 141.7,78.3 C143.05,73.8 144.28,67.55 145.6,62 C146.92,56.45 148.5,49.58 149.6,45 C150.7,40.42 151.77,36.25 152.2,34.5 Q153,31.3 154.6,31.3 L176.8,31.3" fill="none" stroke="#222" stroke-width="1.1" stroke-dasharray="1.8,1.6"/>
<path d="M40.6,88.3 C42.75,89.05 49.12,91.27 53.5,92.8 C57.88,94.33 62.42,95.7 66.9,97.5 C71.38,99.3 75.92,101.47 80.4,103.6 C84.88,105.73 89.7,108.03 93.8,110.3 C97.9,112.57 103.13,116.05 105,117.2" fill="none" stroke="#222" stroke-width="1.1" stroke-dasharray="3.6,1.6,1,1.6"/>
<text x="22.6" y="14.4" font-size="13" text-anchor="start" font-weight="normal" fill="#222" stroke="#222" stroke-width="0.28" font-family="'Liberation Serif','Times New Roman',serif" >(a)</text>
<text x="111.2" y="41.8" font-size="10.5" text-anchor="start" font-weight="normal" fill="#222" stroke="#222" stroke-width="0.28" font-family="'Liberation Serif','Times New Roman',serif" >γ</text>
<text x="57.8" y="107.5" font-size="10.5" text-anchor="start" font-weight="normal" fill="#222" stroke="#222" stroke-width="0.28" font-family="'Liberation Serif','Times New Roman',serif" >γ′</text>
<text x="146.6" y="72.7" font-size="10.4" text-anchor="start" font-weight="normal" fill="#222" stroke="#222" stroke-width="0.28" font-family="'Liberation Serif','Times New Roman',serif" >Liquid</text>
<text x="100.8" y="103.3" font-size="10.2" text-anchor="start" font-weight="normal" fill="#222" stroke="#222" stroke-width="0.28" font-family="'Liberation Serif','IPAGothic',serif" >1342℃</text>
<line x1="114.2" y1="105.3" x2="117.08" y2="112.24" stroke="#222" stroke-width="0.9"/>
<path d="M118.8,116.4 L115.5,112.36 L118.27,111.21 Z" fill="#222"/>
<text x="109.5" y="144.2" font-size="10.4" text-anchor="middle" font-weight="bold" fill="#222" stroke="#222" stroke-width="0.28" font-family="'Liberation Serif','Times New Roman',serif" >Temperature <tspan font-weight="normal" stroke-width="0.1">(°</tspan>C<tspan font-weight="normal" stroke-width="0.1">)</tspan></text>
<text transform="translate(20.1,71.1) rotate(-90)" x="0" y="0" font-size="10.4" text-anchor="middle" font-weight="bold" fill="#222" stroke="#222" stroke-width="0.28" font-family="'Liberation Serif','Times New Roman',serif" textLength="114" lengthAdjust="spacingAndGlyphs">Amount of phases (Mole)</text>
<rect x="221.7" y="16.4" width="144.6" height="100.1" fill="none" stroke="#3a3a3a" stroke-width="1.2"/>
<line x1="221.7" y1="116.5" x2="224.2" y2="116.5" stroke="#3a3a3a" stroke-width="1"/>
<text x="219.3" y="120.1" font-size="10.2" text-anchor="end" font-weight="normal" fill="#222" stroke="#222" stroke-width="0.28" font-family="'Liberation Serif','Times New Roman',serif" >0.0</text>
<line x1="221.7" y1="70.75" x2="224.2" y2="70.75" stroke="#3a3a3a" stroke-width="1"/>
<text x="219.3" y="74.35" font-size="10.2" text-anchor="end" font-weight="normal" fill="#222" stroke="#222" stroke-width="0.28" font-family="'Liberation Serif','Times New Roman',serif" >0.5</text>
<line x1="221.7" y1="25" x2="224.2" y2="25" stroke="#3a3a3a" stroke-width="1"/>
<text x="219.3" y="28.6" font-size="10.2" text-anchor="end" font-weight="normal" fill="#222" stroke="#222" stroke-width="0.28" font-family="'Liberation Serif','Times New Roman',serif" >1.0</text>
<line x1="221.7" y1="116.5" x2="221.7" y2="114" stroke="#3a3a3a" stroke-width="1"/>
<text x="221.7" y="127.6" font-size="10.2" text-anchor="middle" font-weight="normal" fill="#222" stroke="#222" stroke-width="0.28" font-family="'Liberation Serif','Times New Roman',serif" >1200</text>
<line x1="279.54" y1="116.5" x2="279.54" y2="114" stroke="#3a3a3a" stroke-width="1"/>
<text x="279.54" y="127.6" font-size="10.2" text-anchor="middle" font-weight="normal" fill="#222" stroke="#222" stroke-width="0.28" font-family="'Liberation Serif','Times New Roman',serif" >1300</text>
<line x1="337.38" y1="116.5" x2="337.38" y2="114" stroke="#3a3a3a" stroke-width="1"/>
<text x="337.38" y="127.6" font-size="10.2" text-anchor="middle" font-weight="normal" fill="#222" stroke="#222" stroke-width="0.28" font-family="'Liberation Serif','Times New Roman',serif" >1400</text>
<path d="M221.7,60.2 C223.43,60.6 228.68,61.78 232.1,62.6 C235.52,63.42 238.83,64.35 242.2,65.1 C245.57,65.85 249.43,66.43 252.3,67.1 C255.17,67.77 257.38,68.33 259.4,69.1 C261.42,69.87 262.88,70.8 264.4,71.7 C265.92,72.6 266.43,72.92 268.5,74.5 C270.57,76.08 274.13,78.62 276.8,81.2 C279.47,83.78 282.13,86.72 284.5,90 C286.87,93.28 289.33,97.82 291,100.9 C292.67,103.98 293.57,105.93 294.5,108.5 C295.43,111.07 296.25,115 296.6,116.3" fill="none" stroke="#222" stroke-width="1.1"/>
<path d="M260.3,116.3 Q265.6,107.2 269.4,100 L297.3,25.4 L366.3,25.4" fill="none" stroke="#222" stroke-width="1.1" stroke-dasharray="1.8,1.6"/>
<path d="M221.7,82.8 L259.4,73.2 " fill="none" stroke="#222" stroke-width="1.1" stroke-dasharray="3.6,1.6,1,1.6"/>
<path d="M259.4,73.2 C260.23,73.95 262.8,75.85 264.4,77.7 C266,79.55 266.93,81.17 269,84.3 C271.07,87.43 274.03,91.92 276.8,96.5 C279.57,101.08 283.58,108.5 285.6,111.8 C287.62,115.1 288.35,115.55 288.9,116.3" fill="none" stroke="#222" stroke-width="1.1" stroke-dasharray="3.6,1.6,1,1.6"/>
<line x1="221.7" y1="115.9" x2="262" y2="115.9" stroke="#222" stroke-width="1.1" stroke-dasharray="3.6,1.6,1,1.6"/>
<text x="203.6" y="14" font-size="13.5" text-anchor="start" font-weight="normal" fill="#222" stroke="#222" stroke-width="0.28" font-family="'Liberation Serif','Times New Roman',serif" >(b)</text>
<text x="255.2" y="64" font-size="10" text-anchor="start" font-weight="normal" fill="#222" stroke="#222" stroke-width="0.28" font-family="'Liberation Serif','Times New Roman',serif" >γ</text>
<text x="232" y="74.5" font-size="10" text-anchor="start" font-weight="normal" fill="#222" stroke="#222" stroke-width="0.28" font-family="'Liberation Serif','Times New Roman',serif" >γ′</text>
<text x="328.3" y="38.4" font-size="10.4" text-anchor="start" font-weight="normal" fill="#222" stroke="#222" stroke-width="0.28" font-family="'Liberation Serif','Times New Roman',serif" >Liquid</text>
<text x="237.9" y="99.6" font-size="10.2" text-anchor="start" font-weight="normal" fill="#222" stroke="#222" stroke-width="0.28" font-family="'Liberation Serif','IPAGothic',serif" >1265℃</text>
<line x1="254.3" y1="101.1" x2="258.32" y2="111.79" stroke="#222" stroke-width="0.9"/>
<path d="M259.9,116 L256.74,111.85 L259.55,110.79 Z" fill="#222"/>
<text x="229.9" y="110.7" font-size="9.1" fill="#222" stroke="#222" stroke-width="0.28" font-family="'Liberation Serif','Times New Roman',serif">M<tspan font-size="6.4" dy="2.8" dx="0.4">2</tspan><tspan dy="-2.8" dx="0.5">B</tspan></text>
<text x="294" y="144.5" font-size="10.9" text-anchor="middle" font-weight="bold" fill="#222" stroke="#222" stroke-width="0.28" font-family="'Liberation Serif','Times New Roman',serif" >Temperature <tspan font-weight="normal" stroke-width="0.1">(°</tspan>C<tspan font-weight="normal" stroke-width="0.1">)</tspan></text>
<text transform="translate(199.8,72.9) rotate(-90)" x="0" y="0" font-size="10.9" text-anchor="middle" font-weight="bold" fill="#222" stroke="#222" stroke-width="0.28" font-family="'Liberation Serif','Times New Roman',serif" textLength="119.6" lengthAdjust="spacingAndGlyphs">Amount of phases (Mole)</text>
<rect x="400.6" y="19.4" width="144.1" height="99.8" fill="none" stroke="#3a3a3a" stroke-width="1.2"/>
<line x1="400.6" y1="119.2" x2="403.1" y2="119.2" stroke="#3a3a3a" stroke-width="1"/>
<text x="398.4" y="122.8" font-size="10.2" text-anchor="end" font-weight="normal" fill="#222" stroke="#222" stroke-width="0.28" font-family="'Liberation Serif','Times New Roman',serif" >0.0</text>
<line x1="400.6" y1="101.04" x2="403.1" y2="101.04" stroke="#3a3a3a" stroke-width="1"/>
<text x="398.4" y="104.64" font-size="10.2" text-anchor="end" font-weight="normal" fill="#222" stroke="#222" stroke-width="0.28" font-family="'Liberation Serif','Times New Roman',serif" >0.2</text>
<line x1="400.6" y1="82.88" x2="403.1" y2="82.88" stroke="#3a3a3a" stroke-width="1"/>
<text x="398.4" y="86.48" font-size="10.2" text-anchor="end" font-weight="normal" fill="#222" stroke="#222" stroke-width="0.28" font-family="'Liberation Serif','Times New Roman',serif" >0.4</text>
<line x1="400.6" y1="64.72" x2="403.1" y2="64.72" stroke="#3a3a3a" stroke-width="1"/>
<text x="398.4" y="68.32" font-size="10.2" text-anchor="end" font-weight="normal" fill="#222" stroke="#222" stroke-width="0.28" font-family="'Liberation Serif','Times New Roman',serif" >0.6</text>
<line x1="400.6" y1="46.56" x2="403.1" y2="46.56" stroke="#3a3a3a" stroke-width="1"/>
<text x="398.4" y="50.16" font-size="10.2" text-anchor="end" font-weight="normal" fill="#222" stroke="#222" stroke-width="0.28" font-family="'Liberation Serif','Times New Roman',serif" >0.8</text>
<line x1="400.6" y1="28.4" x2="403.1" y2="28.4" stroke="#3a3a3a" stroke-width="1"/>
<text x="398.4" y="32" font-size="10.2" text-anchor="end" font-weight="normal" fill="#222" stroke="#222" stroke-width="0.28" font-family="'Liberation Serif','Times New Roman',serif" >1.0</text>
<line x1="400.6" y1="119.2" x2="400.6" y2="116.7" stroke="#3a3a3a" stroke-width="1"/>
<text x="400.6" y="130.2" font-size="10.2" text-anchor="middle" font-weight="normal" fill="#222" stroke="#222" stroke-width="0.28" font-family="'Liberation Serif','Times New Roman',serif" >1250</text>
<line x1="455.8" y1="119.2" x2="455.8" y2="116.7" stroke="#3a3a3a" stroke-width="1"/>
<text x="455.8" y="130.2" font-size="10.2" text-anchor="middle" font-weight="normal" fill="#222" stroke="#222" stroke-width="0.28" font-family="'Liberation Serif','Times New Roman',serif" >1300</text>
<line x1="511" y1="119.2" x2="511" y2="116.7" stroke="#3a3a3a" stroke-width="1"/>
<text x="511" y="130.2" font-size="10.2" text-anchor="middle" font-weight="normal" fill="#222" stroke="#222" stroke-width="0.28" font-family="'Liberation Serif','Times New Roman',serif" >1350</text>
<path d="M400.6,73.6 L452.5,64.7 C453.77,65 457.15,65.15 460.1,66.5 C463.05,67.85 466.4,70.28 470.2,72.8 C474,75.32 479.53,78.87 482.9,81.6 C486.27,84.33 487.67,86.45 490.4,89.2 C493.13,91.95 496.77,94.73 499.3,98.1 C501.83,101.47 503.7,105.88 505.6,109.4 C507.5,112.92 509.85,117.57 510.7,119.2" fill="none" stroke="#222" stroke-width="1.1"/>
<path d="M400.6,73.6 C404.15,74.33 415.83,76.85 421.9,78 C427.97,79.15 431.9,79.6 437,80.5 C442.1,81.4 447.73,81.82 452.5,83.4 C457.27,84.98 461.8,87.98 465.6,90 C469.4,92.02 472,93.1 475.3,95.5 C478.6,97.9 482.45,101.65 485.4,104.4 C488.35,107.15 490.97,109.53 493,112 C495.03,114.47 496.83,118 497.6,119.2" fill="none" stroke="#222" stroke-width="1.1" stroke-dasharray="3.6,1.6,1,1.6"/>
<path d="M455.4,119.2 C456.33,118.42 458.88,116.28 461,114.5 C463.12,112.72 466.1,110.5 468.1,108.5 C470.1,106.5 471.48,104.58 473,102.5 C474.52,100.42 475.33,99.45 477.2,96 C479.07,92.55 482.05,86.13 484.2,81.8 C486.35,77.47 488.42,73.55 490.1,70 C491.78,66.45 493.6,62.08 494.3,60.5 L511.1,28.4 L544.7,28.4" fill="none" stroke="#222" stroke-width="1.1" stroke-dasharray="1.8,1.6"/>
<text x="385.4" y="14.2" font-size="13.4" text-anchor="start" font-weight="normal" fill="#222" stroke="#222" stroke-width="0.28" font-family="'Liberation Serif','Times New Roman',serif" >(c)</text>
<text x="461.5" y="58.6" font-size="10" text-anchor="start" font-weight="normal" fill="#222" stroke="#222" stroke-width="0.28" font-family="'Liberation Serif','Times New Roman',serif" >γ</text>
<text x="414" y="91" font-size="10" text-anchor="start" font-weight="normal" fill="#222" stroke="#222" stroke-width="0.28" font-family="'Liberation Serif','Times New Roman',serif" >γ′</text>
<text x="512.1" y="44.8" font-size="10.4" text-anchor="start" font-weight="normal" fill="#222" stroke="#222" stroke-width="0.28" font-family="'Liberation Serif','Times New Roman',serif" >Liquid</text>
<text x="426.2" y="105.8" font-size="10.7" text-anchor="start" font-weight="normal" fill="#222" stroke="#222" stroke-width="0.28" font-family="'Liberation Serif','IPAGothic',serif" >1298℃</text>
<line x1="444.8" y1="104.8" x2="451.32" y2="113.59" stroke="#222" stroke-width="0.9"/>
<path d="M454,117.2 L449.82,114.08 L452.23,112.29 Z" fill="#222"/>
<text x="473" y="147" font-size="11.2" text-anchor="middle" font-weight="bold" fill="#222" stroke="#222" stroke-width="0.28" font-family="'Liberation Serif','Times New Roman',serif" >Temperature <tspan font-weight="normal" stroke-width="0.1">(°</tspan>C<tspan font-weight="normal" stroke-width="0.1">)</tspan></text>
<text transform="translate(377.6,71) rotate(-90)" x="0" y="0" font-size="10.9" text-anchor="middle" font-weight="bold" fill="#222" stroke="#222" stroke-width="0.28" font-family="'Liberation Serif','Times New Roman',serif" textLength="119.3" lengthAdjust="spacingAndGlyphs">Amount of phases (Mole)</text>
<rect x="330.1" y="156.5" width="211.5" height="105.7" fill="none" stroke="#111" stroke-width="1.3"/>
<line x1="330.1" y1="162.5" x2="333.1" y2="162.5" stroke="#111" stroke-width="1.1"/>
<text x="326" y="166.3" font-size="10.9" text-anchor="end" font-weight="normal" fill="#111" stroke="#111" stroke-width="0.28" font-family="'Liberation Serif','Times New Roman',serif" >1350</text>
<line x1="330.1" y1="194.7" x2="333.1" y2="194.7" stroke="#111" stroke-width="1.1"/>
<text x="326" y="198.5" font-size="10.9" text-anchor="end" font-weight="normal" fill="#111" stroke="#111" stroke-width="0.28" font-family="'Liberation Serif','Times New Roman',serif" >1300</text>
<line x1="330.1" y1="226.9" x2="333.1" y2="226.9" stroke="#111" stroke-width="1.1"/>
<text x="326" y="230.7" font-size="10.9" text-anchor="end" font-weight="normal" fill="#111" stroke="#111" stroke-width="0.28" font-family="'Liberation Serif','Times New Roman',serif" >1250</text>
<line x1="330.1" y1="249.6" x2="333.1" y2="249.6" stroke="#111" stroke-width="1.1"/>
<text x="326" y="253.4" font-size="10.9" text-anchor="end" font-weight="normal" fill="#111" stroke="#111" stroke-width="0.28" font-family="'Liberation Serif','Times New Roman',serif" >50</text>
<text x="326" y="266" font-size="10.9" text-anchor="end" font-weight="normal" fill="#111" stroke="#111" stroke-width="0.28" font-family="'Liberation Serif','Times New Roman',serif" >0</text>
<line x1="339.4" y1="262.2" x2="339.4" y2="259.2" stroke="#111" stroke-width="1.1"/>
<text x="339.4" y="274.6" font-size="10.9" text-anchor="middle" font-weight="normal" fill="#111" stroke="#111" stroke-width="0.28" font-family="'Liberation Serif','Times New Roman',serif" >0</text>
<line x1="370.4" y1="262.2" x2="370.4" y2="259.2" stroke="#111" stroke-width="1.1"/>
<text x="370.4" y="274.6" font-size="10.9" text-anchor="middle" font-weight="normal" fill="#111" stroke="#111" stroke-width="0.28" font-family="'Liberation Serif','Times New Roman',serif" >5</text>
<line x1="401.4" y1="262.2" x2="401.4" y2="259.2" stroke="#111" stroke-width="1.1"/>
<text x="401.4" y="274.6" font-size="10.9" text-anchor="middle" font-weight="normal" fill="#111" stroke="#111" stroke-width="0.28" font-family="'Liberation Serif','Times New Roman',serif" >10</text>
<line x1="432.4" y1="262.2" x2="432.4" y2="259.2" stroke="#111" stroke-width="1.1"/>
<text x="432.4" y="274.6" font-size="10.9" text-anchor="middle" font-weight="normal" fill="#111" stroke="#111" stroke-width="0.28" font-family="'Liberation Serif','Times New Roman',serif" >15</text>
<line x1="463.4" y1="262.2" x2="463.4" y2="259.2" stroke="#111" stroke-width="1.1"/>
<text x="463.4" y="274.6" font-size="10.9" text-anchor="middle" font-weight="normal" fill="#111" stroke="#111" stroke-width="0.28" font-family="'Liberation Serif','Times New Roman',serif" >20</text>
<line x1="494.4" y1="262.2" x2="494.4" y2="259.2" stroke="#111" stroke-width="1.1"/>
<text x="494.4" y="274.6" font-size="10.9" text-anchor="middle" font-weight="normal" fill="#111" stroke="#111" stroke-width="0.28" font-family="'Liberation Serif','Times New Roman',serif" >25</text>
<line x1="525.4" y1="262.2" x2="525.4" y2="259.2" stroke="#111" stroke-width="1.1"/>
<text x="525.4" y="274.6" font-size="10.9" text-anchor="middle" font-weight="normal" fill="#111" stroke="#111" stroke-width="0.28" font-family="'Liberation Serif','Times New Roman',serif" >30</text>
<line x1="326.9" y1="241" x2="332.9" y2="239.4" stroke="#111" stroke-width="1.1"/>
<line x1="326.9" y1="243.2" x2="332.9" y2="241.6" stroke="#111" stroke-width="1.1"/>
<line x1="538.4" y1="241" x2="544.4" y2="239.4" stroke="#111" stroke-width="1.1"/>
<line x1="538.4" y1="243.2" x2="544.4" y2="241.6" stroke="#111" stroke-width="1.1"/>
<polyline points="338.6,257.6 342.4,243.3" fill="none" stroke="#f5121c" stroke-width="1.3"/>
<polyline points="343.1,240.9 352.2,207.6 354.5,207.6 356.3,188.3 363.9,188.3 366.3,182 378.8,182 380.9,175.5 405.2,175.5 407,169.2 495.2,169.2" fill="none" stroke="#f5121c" stroke-width="1.3" stroke-linejoin="round"/>
<polyline points="339.2,257.6 345.1,243.3" fill="none" stroke="#1a1aff" stroke-width="1.3"/>
<polyline points="345.9,241.2 351.8,227.2 357.8,227.2 358.6,201 365.2,201 366.5,194.7 378.8,194.7 380.5,188.2 399.5,188.2 400.8,181.9 431.8,181.9 433.4,175.5 526.3,175.5" fill="none" stroke="#1a1aff" stroke-width="1.3" stroke-linejoin="round"/>
<text x="409.8" y="167" font-size="9.1" text-anchor="start" font-weight="normal" fill="#f5121c" stroke="#f5121c" stroke-width="0.08" font-family="'Liberation Serif','Times New Roman',serif" >HT2 for LMC samples</text>
<text x="409.8" y="193" font-size="9.1" text-anchor="start" font-weight="normal" fill="#1a1aff" stroke="#1a1aff" stroke-width="0.08" font-family="'Liberation Serif','Times New Roman',serif" >HT1 for HRS samples</text>
<rect x="362.2" y="208.2" width="175.3" height="43.6" fill="#fff" stroke="#8a8a8a" stroke-width="1"/>
<text x="363.8" y="218.4" font-size="8.6" fill="#1a1aff" stroke="#1a1aff" stroke-width="0.18" font-family="'Liberation Serif','Times New Roman',serif" textLength="144.6" lengthAdjust="spacingAndGlyphs">HT1:1250°C/1 h+1290°C/1 h+1300°C/2 h+</text>
<text x="363.8" y="228.2" font-size="8.6" fill="#1a1aff" stroke="#1a1aff" stroke-width="0.18" font-family="'Liberation Serif','Times New Roman',serif" textLength="169.8" lengthAdjust="spacingAndGlyphs">1310°C/3 h+1320°C/5 h+1330°C/15 h+ air cooling</text>
<text x="363.8" y="237.9" font-size="8.6" fill="#f5121c" stroke="#f5121c" stroke-width="0.18" font-family="'Liberation Serif','Times New Roman',serif" textLength="157.4" lengthAdjust="spacingAndGlyphs">HT2:1280°C/0.5 h+1310°C/1.5 h+1320°C/2 h+</text>
<text x="363.8" y="247.7" font-size="8.6" fill="#f5121c" stroke="#f5121c" stroke-width="0.18" font-family="'Liberation Serif','Times New Roman',serif" textLength="126.1" lengthAdjust="spacingAndGlyphs">1330°C/4 h+1340°C/15 h+ air cooling</text>
<text x="284.3" y="157.4" font-size="12.4" text-anchor="start" font-weight="normal" fill="#111" stroke="#111" stroke-width="0.28" font-family="'Liberation Serif','Times New Roman',serif" >(e)</text>
<text transform="translate(294.8,208) rotate(-90)" font-size="11.2" text-anchor="middle" font-weight="bold" fill="#111" font-family="'Liberation Serif','Times New Roman',serif" stroke="#111" stroke-width="0.25" textLength="85.2" lengthAdjust="spacingAndGlyphs">Temperature <tspan font-weight="normal" stroke-width="0.1">(°</tspan>C<tspan font-weight="normal" stroke-width="0.1">)</tspan></text>
<text x="435.8" y="289.5" font-size="11.5" text-anchor="middle" font-weight="bold" fill="#111" stroke="#111" stroke-width="0.1" font-family="'Liberation Serif','Times New Roman',serif" >Time (h)</text>
</svg>
</body></html>
